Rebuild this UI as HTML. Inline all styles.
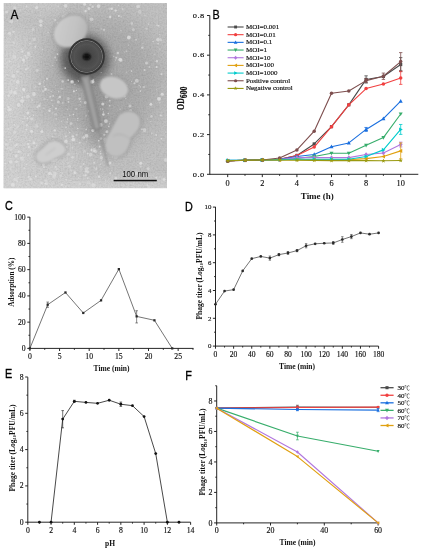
<!DOCTYPE html>
<html lang="en"><head><meta charset="utf-8"><title>Phage characterization figure</title>
<style>html,body{margin:0;padding:0;background:#fff;}svg{display:block;}</style>
</head><body>
<svg width="423" height="550" viewBox="0 0 423 550">
<rect x="0" y="0" width="423" height="550" fill="#ffffff"/>
<defs>
<clipPath id="clipA"><rect x="3.6" y="3.1" width="163.4" height="185.1"/></clipPath>
<filter id="b05" x="-30%" y="-30%" width="160%" height="160%"><feGaussianBlur stdDeviation="0.6"/></filter>
<filter id="b1" x="-30%" y="-30%" width="160%" height="160%"><feGaussianBlur stdDeviation="1"/></filter>
<filter id="b2" x="-30%" y="-30%" width="160%" height="160%"><feGaussianBlur stdDeviation="2.2"/></filter>
<filter id="b4" x="-50%" y="-50%" width="200%" height="200%"><feGaussianBlur stdDeviation="4.2"/></filter>
<filter id="b5" x="-50%" y="-50%" width="200%" height="200%"><feGaussianBlur stdDeviation="6"/></filter>
<filter id="b12" x="-60%" y="-60%" width="220%" height="220%"><feGaussianBlur stdDeviation="14"/></filter>
<filter id="noise" x="0" y="0" width="100%" height="100%"><feTurbulence type="fractalNoise" baseFrequency="0.22" numOctaves="2" seed="11" result="n"/><feColorMatrix type="matrix" values="0 0 0 0 1  0 0 0 0 1  0 0 0 0 1  3.2 3.2 0 0 -3.55"/></filter>
<filter id="grain" x="0" y="0" width="100%" height="100%"><feTurbulence type="fractalNoise" baseFrequency="0.6" numOctaves="2" seed="3" result="n"/><feColorMatrix type="matrix" values="0 0 0 0 0  0 0 0 0 0  0 0 0 0 0  0.9 0.9 0 0 -0.72"/></filter>
<radialGradient id="headG" cx="0.5" cy="0.5" r="0.5"><stop offset="0" stop-color="#202020"/><stop offset="0.15" stop-color="#2c2c2c"/><stop offset="0.35" stop-color="#464646"/><stop offset="0.8" stop-color="#525252"/><stop offset="1" stop-color="#4c4c4c"/></radialGradient>
<linearGradient id="blobG" x1="0" y1="0" x2="1" y2="1"><stop offset="0" stop-color="#d0d0d0"/><stop offset="0.6" stop-color="#c2c2c2"/><stop offset="1" stop-color="#b0b0b0"/></linearGradient>
</defs>
<g id="panelA" clip-path="url(#clipA)">
<rect x="3.6" y="3.1" width="163.4" height="185.1" fill="#c2c2c2"/>
<ellipse cx="104" cy="80" rx="58" ry="66" fill="#acacac" filter="url(#b12)"/>
<ellipse cx="85" cy="59.5" rx="24.5" ry="24.5" fill="#5a5a5a" filter="url(#b4)"/>
<ellipse cx="97" cy="110" rx="10" ry="38" fill="#909090" filter="url(#b5)" opacity="0.7"/>
<rect x="-6" y="30" width="30" height="170" fill="#d8d8d8" filter="url(#b12)"/><ellipse cx="40" cy="160" rx="45" ry="30" fill="#d0d0d0" filter="url(#b12)" opacity="0.8"/>
<rect x="0" y="180" width="170" height="14" fill="#d4d4d4" filter="url(#b5)"/><rect x="0" y="-4" width="60" height="16" fill="#d0d0d0" filter="url(#b5)" opacity="0.7"/>
<rect x="3.6" y="3.1" width="163.4" height="185.1" filter="url(#grain)" opacity="0.12"/>
<g filter="url(#b05)" fill="#e2e2e2"><circle cx="105.3" cy="139.7" r="1.9" opacity="0.36"/><circle cx="80.0" cy="176.6" r="0.5" opacity="0.76"/><circle cx="23.2" cy="89.8" r="0.8" opacity="0.52"/><circle cx="21.4" cy="49.6" r="0.8" opacity="0.53"/><circle cx="34.3" cy="162.7" r="1.2" opacity="0.42"/><circle cx="133.3" cy="29.4" r="1.5" opacity="0.41"/><circle cx="5.3" cy="163.5" r="0.8" opacity="0.70"/><circle cx="159.6" cy="34.4" r="0.7" opacity="0.48"/><circle cx="159.8" cy="102.7" r="0.8" opacity="0.43"/><circle cx="160.9" cy="40.0" r="1.2" opacity="0.48"/><circle cx="63.2" cy="34.4" r="0.7" opacity="0.47"/><circle cx="58.4" cy="153.6" r="0.5" opacity="0.62"/><circle cx="118.9" cy="16.1" r="1.0" opacity="0.72"/><circle cx="82.5" cy="133.0" r="0.5" opacity="0.47"/><circle cx="156.2" cy="177.7" r="1.0" opacity="0.73"/><circle cx="7.9" cy="148.2" r="1.0" opacity="0.52"/><circle cx="140.4" cy="86.9" r="0.7" opacity="0.63"/><circle cx="158.7" cy="25.8" r="0.8" opacity="0.77"/><circle cx="156.7" cy="67.0" r="1.0" opacity="0.75"/><circle cx="45.4" cy="88.7" r="1.0" opacity="0.74"/><circle cx="10.9" cy="177.1" r="0.6" opacity="0.44"/><circle cx="28.9" cy="54.4" r="1.9" opacity="0.39"/><circle cx="115.4" cy="60.0" r="0.6" opacity="0.63"/><circle cx="121.1" cy="60.6" r="1.5" opacity="0.42"/><circle cx="12.8" cy="184.6" r="1.9" opacity="0.77"/><circle cx="10.1" cy="139.5" r="1.0" opacity="0.72"/><circle cx="78.4" cy="81.2" r="0.5" opacity="0.79"/><circle cx="107.8" cy="150.7" r="1.0" opacity="0.73"/><circle cx="26.0" cy="137.9" r="0.7" opacity="0.63"/><circle cx="131.9" cy="23.5" r="1.2" opacity="0.52"/><circle cx="14.5" cy="81.0" r="0.7" opacity="0.55"/><circle cx="165.9" cy="160.0" r="1.9" opacity="0.55"/><circle cx="83.6" cy="137.5" r="1.5" opacity="0.47"/><circle cx="80.7" cy="169.0" r="0.6" opacity="0.52"/><circle cx="164.1" cy="179.6" r="1.5" opacity="0.74"/><circle cx="34.0" cy="94.0" r="1.9" opacity="0.70"/><circle cx="144.6" cy="70.1" r="1.0" opacity="0.66"/><circle cx="111.9" cy="143.0" r="1.0" opacity="0.60"/><circle cx="112.6" cy="156.8" r="0.9" opacity="0.70"/><circle cx="116.2" cy="57.8" r="1.0" opacity="0.64"/><circle cx="98.5" cy="6.1" r="1.9" opacity="0.70"/><circle cx="57.5" cy="54.1" r="0.9" opacity="0.72"/><circle cx="109.2" cy="150.0" r="1.0" opacity="0.47"/><circle cx="60.6" cy="175.6" r="1.2" opacity="0.51"/><circle cx="140.7" cy="163.2" r="1.5" opacity="0.79"/><circle cx="159.0" cy="98.8" r="1.9" opacity="0.79"/><circle cx="37.0" cy="70.3" r="1.5" opacity="0.48"/><circle cx="17.7" cy="126.8" r="1.2" opacity="0.43"/><circle cx="130.6" cy="110.3" r="1.2" opacity="0.49"/><circle cx="94.1" cy="162.7" r="0.9" opacity="0.67"/><circle cx="9.4" cy="33.3" r="1.5" opacity="0.63"/><circle cx="34.1" cy="142.9" r="0.7" opacity="0.63"/><circle cx="11.7" cy="90.3" r="0.8" opacity="0.42"/><circle cx="148.6" cy="24.3" r="0.7" opacity="0.57"/><circle cx="93.3" cy="80.0" r="1.0" opacity="0.52"/><circle cx="103.5" cy="112.0" r="0.8" opacity="0.67"/><circle cx="65.2" cy="68.1" r="0.9" opacity="0.74"/><circle cx="144.5" cy="130.1" r="1.9" opacity="0.52"/><circle cx="10.8" cy="116.3" r="0.6" opacity="0.48"/><circle cx="87.5" cy="178.1" r="0.9" opacity="0.78"/><circle cx="136.8" cy="80.7" r="1.9" opacity="0.52"/><circle cx="27.9" cy="113.1" r="1.5" opacity="0.78"/><circle cx="160.8" cy="115.4" r="1.0" opacity="0.72"/><circle cx="111.5" cy="73.9" r="1.0" opacity="0.60"/><circle cx="104.0" cy="29.7" r="1.2" opacity="0.54"/><circle cx="162.2" cy="94.3" r="1.5" opacity="0.79"/><circle cx="66.1" cy="179.9" r="0.7" opacity="0.62"/><circle cx="46.8" cy="183.5" r="1.5" opacity="0.46"/><circle cx="8.2" cy="177.0" r="0.9" opacity="0.57"/><circle cx="51.1" cy="91.3" r="0.6" opacity="0.65"/><circle cx="159.7" cy="48.9" r="0.5" opacity="0.70"/><circle cx="138.1" cy="6.4" r="1.9" opacity="0.60"/><circle cx="44.2" cy="90.8" r="0.5" opacity="0.46"/><circle cx="48.1" cy="32.3" r="0.9" opacity="0.48"/><circle cx="102.9" cy="90.9" r="0.6" opacity="0.36"/><circle cx="25.3" cy="55.7" r="1.0" opacity="0.63"/><circle cx="122.7" cy="8.9" r="1.0" opacity="0.51"/><circle cx="124.9" cy="112.1" r="0.5" opacity="0.35"/><circle cx="94.1" cy="129.5" r="0.6" opacity="0.75"/><circle cx="92.8" cy="6.7" r="1.2" opacity="0.62"/><circle cx="115.9" cy="178.4" r="1.5" opacity="0.74"/><circle cx="140.4" cy="91.1" r="0.8" opacity="0.75"/><circle cx="79.9" cy="142.8" r="0.9" opacity="0.73"/><circle cx="116.8" cy="83.2" r="0.9" opacity="0.64"/><circle cx="31.6" cy="131.2" r="1.5" opacity="0.79"/><circle cx="91.6" cy="81.9" r="1.9" opacity="0.72"/><circle cx="16.0" cy="46.1" r="0.6" opacity="0.71"/><circle cx="111.8" cy="8.7" r="1.2" opacity="0.79"/><circle cx="165.7" cy="132.3" r="0.5" opacity="0.41"/><circle cx="24.7" cy="116.5" r="0.6" opacity="0.67"/><circle cx="26.7" cy="57.5" r="1.5" opacity="0.42"/><circle cx="103.3" cy="79.8" r="0.7" opacity="0.38"/><circle cx="39.3" cy="105.7" r="1.2" opacity="0.69"/><circle cx="50.1" cy="108.5" r="0.6" opacity="0.68"/><circle cx="146.4" cy="28.6" r="1.2" opacity="0.39"/><circle cx="115.4" cy="93.6" r="1.0" opacity="0.77"/><circle cx="65.2" cy="14.2" r="0.9" opacity="0.42"/><circle cx="106.6" cy="96.6" r="1.9" opacity="0.60"/><circle cx="40.5" cy="15.6" r="0.8" opacity="0.46"/><circle cx="125.8" cy="98.6" r="0.7" opacity="0.71"/><circle cx="144.0" cy="87.0" r="1.2" opacity="0.43"/><circle cx="119.8" cy="123.9" r="0.6" opacity="0.61"/><circle cx="10.8" cy="162.0" r="1.9" opacity="0.62"/><circle cx="43.4" cy="164.5" r="1.5" opacity="0.78"/><circle cx="22.3" cy="101.1" r="1.9" opacity="0.68"/><circle cx="13.6" cy="31.6" r="1.2" opacity="0.66"/><circle cx="40.9" cy="25.2" r="1.5" opacity="0.72"/><circle cx="27.5" cy="118.3" r="1.0" opacity="0.73"/><circle cx="51.7" cy="174.3" r="1.0" opacity="0.71"/><circle cx="65.9" cy="136.3" r="1.0" opacity="0.64"/><circle cx="134.5" cy="83.3" r="1.0" opacity="0.58"/><circle cx="100.4" cy="108.9" r="0.7" opacity="0.53"/><circle cx="20.6" cy="10.1" r="0.8" opacity="0.44"/><circle cx="83.9" cy="175.5" r="1.0" opacity="0.35"/><circle cx="80.7" cy="166.8" r="1.2" opacity="0.50"/><circle cx="110.2" cy="17.0" r="1.2" opacity="0.74"/><circle cx="80.6" cy="105.0" r="0.6" opacity="0.47"/><circle cx="31.0" cy="56.5" r="0.8" opacity="0.36"/><circle cx="149.3" cy="67.0" r="1.0" opacity="0.49"/><circle cx="14.5" cy="8.0" r="1.5" opacity="0.56"/><circle cx="157.2" cy="25.6" r="1.0" opacity="0.48"/><circle cx="113.6" cy="137.5" r="0.7" opacity="0.37"/><circle cx="120.1" cy="109.2" r="0.6" opacity="0.63"/><circle cx="151.8" cy="133.3" r="0.9" opacity="0.43"/><circle cx="63.2" cy="16.2" r="1.5" opacity="0.42"/><circle cx="43.7" cy="127.0" r="0.5" opacity="0.64"/><circle cx="74.3" cy="182.5" r="0.5" opacity="0.56"/><circle cx="77.9" cy="128.7" r="0.7" opacity="0.37"/><circle cx="93.3" cy="185.1" r="1.9" opacity="0.60"/><circle cx="156.3" cy="135.1" r="0.8" opacity="0.75"/><circle cx="84.1" cy="175.2" r="0.5" opacity="0.66"/><circle cx="108.7" cy="95.0" r="0.5" opacity="0.37"/><circle cx="139.2" cy="85.6" r="0.5" opacity="0.74"/><circle cx="158.0" cy="39.6" r="1.9" opacity="0.64"/><circle cx="35.3" cy="46.8" r="1.0" opacity="0.71"/><circle cx="19.0" cy="184.3" r="0.7" opacity="0.62"/><circle cx="142.9" cy="43.2" r="0.5" opacity="0.55"/><circle cx="62.6" cy="81.4" r="1.2" opacity="0.59"/><circle cx="26.4" cy="6.3" r="0.9" opacity="0.66"/><circle cx="148.5" cy="186.9" r="1.9" opacity="0.40"/><circle cx="55.2" cy="20.0" r="0.9" opacity="0.72"/><circle cx="55.4" cy="27.8" r="0.6" opacity="0.56"/><circle cx="117.2" cy="150.2" r="0.8" opacity="0.47"/><circle cx="118.3" cy="149.7" r="1.0" opacity="0.75"/><circle cx="16.6" cy="144.8" r="1.2" opacity="0.69"/><circle cx="94.5" cy="168.0" r="0.7" opacity="0.61"/><circle cx="76.2" cy="153.5" r="0.5" opacity="0.68"/><circle cx="117.9" cy="53.0" r="1.2" opacity="0.60"/><circle cx="56.7" cy="60.1" r="0.7" opacity="0.47"/><circle cx="113.8" cy="56.3" r="0.6" opacity="0.59"/><circle cx="124.0" cy="9.1" r="0.6" opacity="0.37"/><circle cx="25.9" cy="69.4" r="0.9" opacity="0.78"/><circle cx="58.2" cy="6.3" r="0.7" opacity="0.68"/><circle cx="20.3" cy="101.0" r="0.7" opacity="0.63"/><circle cx="28.2" cy="143.9" r="1.2" opacity="0.71"/><circle cx="24.0" cy="62.0" r="0.8" opacity="0.56"/><circle cx="74.9" cy="84.8" r="0.7" opacity="0.59"/><circle cx="161.1" cy="113.1" r="0.6" opacity="0.41"/><circle cx="141.9" cy="129.4" r="0.8" opacity="0.79"/><circle cx="10.3" cy="109.6" r="1.5" opacity="0.67"/><circle cx="62.0" cy="88.9" r="0.8" opacity="0.47"/><circle cx="37.4" cy="106.9" r="1.0" opacity="0.69"/><circle cx="131.4" cy="71.1" r="0.8" opacity="0.72"/><circle cx="111.8" cy="170.2" r="0.5" opacity="0.63"/><circle cx="69.5" cy="30.2" r="0.8" opacity="0.57"/><circle cx="11.1" cy="35.0" r="0.6" opacity="0.69"/><circle cx="50.3" cy="172.5" r="1.0" opacity="0.56"/><circle cx="80.7" cy="101.7" r="0.6" opacity="0.71"/><circle cx="65.6" cy="5.8" r="1.9" opacity="0.62"/><circle cx="105.0" cy="152.8" r="0.5" opacity="0.49"/><circle cx="9.4" cy="61.1" r="1.2" opacity="0.58"/><circle cx="92.9" cy="130.4" r="1.5" opacity="0.79"/><circle cx="136.3" cy="173.1" r="1.9" opacity="0.65"/><circle cx="91.4" cy="150.2" r="1.0" opacity="0.78"/><circle cx="8.2" cy="144.9" r="0.8" opacity="0.48"/><circle cx="17.5" cy="20.0" r="1.0" opacity="0.62"/><circle cx="143.9" cy="176.2" r="1.2" opacity="0.49"/><circle cx="154.6" cy="54.3" r="0.8" opacity="0.38"/><circle cx="126.3" cy="126.6" r="0.9" opacity="0.75"/><circle cx="115.7" cy="157.4" r="1.9" opacity="0.44"/><circle cx="88.2" cy="168.0" r="0.8" opacity="0.50"/><circle cx="131.5" cy="81.5" r="0.5" opacity="0.65"/><circle cx="65.9" cy="141.4" r="1.9" opacity="0.75"/><circle cx="151.5" cy="116.3" r="1.2" opacity="0.50"/><circle cx="140.7" cy="166.7" r="1.0" opacity="0.46"/><circle cx="21.1" cy="57.8" r="0.9" opacity="0.71"/><circle cx="17.5" cy="177.9" r="0.6" opacity="0.63"/><circle cx="128.4" cy="45.1" r="0.6" opacity="0.61"/><circle cx="105.9" cy="121.1" r="1.9" opacity="0.68"/><circle cx="72.1" cy="81.8" r="1.9" opacity="0.62"/><circle cx="44.3" cy="80.5" r="0.6" opacity="0.62"/><circle cx="160.6" cy="38.3" r="0.5" opacity="0.42"/><circle cx="52.6" cy="105.6" r="0.7" opacity="0.55"/><circle cx="57.5" cy="22.7" r="1.0" opacity="0.68"/><circle cx="14.9" cy="92.7" r="1.9" opacity="0.78"/><circle cx="56.3" cy="159.6" r="1.2" opacity="0.77"/><circle cx="41.9" cy="131.5" r="1.5" opacity="0.73"/><circle cx="5.3" cy="127.0" r="0.6" opacity="0.39"/><circle cx="29.5" cy="116.7" r="0.6" opacity="0.61"/><circle cx="128.9" cy="37.5" r="1.9" opacity="0.78"/><circle cx="105.6" cy="180.6" r="0.6" opacity="0.51"/><circle cx="136.1" cy="39.8" r="1.0" opacity="0.52"/><circle cx="78.8" cy="128.5" r="0.6" opacity="0.46"/><circle cx="156.6" cy="89.3" r="0.5" opacity="0.40"/><circle cx="101.1" cy="72.5" r="0.5" opacity="0.57"/><circle cx="160.0" cy="176.9" r="0.6" opacity="0.57"/><circle cx="156.0" cy="134.4" r="0.5" opacity="0.40"/><circle cx="123.7" cy="172.1" r="1.2" opacity="0.41"/><circle cx="150.8" cy="121.6" r="0.6" opacity="0.61"/><circle cx="52.7" cy="65.7" r="0.6" opacity="0.58"/><circle cx="13.1" cy="81.0" r="0.8" opacity="0.47"/><circle cx="120.9" cy="30.7" r="0.6" opacity="0.60"/><circle cx="74.6" cy="36.9" r="1.2" opacity="0.73"/><circle cx="44.4" cy="86.8" r="0.7" opacity="0.71"/><circle cx="5.8" cy="144.2" r="1.0" opacity="0.71"/><circle cx="8.4" cy="106.9" r="1.2" opacity="0.74"/><circle cx="17.6" cy="181.8" r="0.8" opacity="0.79"/><circle cx="76.3" cy="90.4" r="0.6" opacity="0.78"/><circle cx="101.3" cy="157.6" r="1.5" opacity="0.58"/><circle cx="13.5" cy="75.9" r="1.9" opacity="0.55"/><circle cx="100.6" cy="169.1" r="0.5" opacity="0.45"/><circle cx="72.9" cy="136.4" r="1.2" opacity="0.76"/><circle cx="65.9" cy="186.8" r="0.7" opacity="0.75"/><circle cx="28.9" cy="146.9" r="1.2" opacity="0.73"/><circle cx="17.4" cy="71.6" r="1.2" opacity="0.54"/><circle cx="48.6" cy="90.0" r="0.9" opacity="0.35"/><circle cx="107.0" cy="144.8" r="1.5" opacity="0.38"/><circle cx="115.7" cy="10.6" r="1.2" opacity="0.75"/><circle cx="36.6" cy="7.4" r="1.5" opacity="0.78"/><circle cx="101.4" cy="28.9" r="0.8" opacity="0.38"/><circle cx="63.7" cy="117.3" r="0.5" opacity="0.43"/><circle cx="126.4" cy="72.2" r="0.8" opacity="0.42"/><circle cx="88.4" cy="182.4" r="1.9" opacity="0.39"/><circle cx="22.9" cy="121.8" r="1.0" opacity="0.49"/><circle cx="150.9" cy="104.2" r="1.5" opacity="0.78"/><circle cx="43.8" cy="108.1" r="0.9" opacity="0.36"/><circle cx="7.0" cy="74.5" r="0.8" opacity="0.57"/><circle cx="118.6" cy="5.5" r="0.8" opacity="0.54"/><circle cx="86.2" cy="115.7" r="0.9" opacity="0.38"/><circle cx="85.6" cy="11.0" r="1.2" opacity="0.75"/><circle cx="130.0" cy="106.1" r="1.5" opacity="0.55"/><circle cx="110.4" cy="173.2" r="1.0" opacity="0.61"/><circle cx="49.4" cy="110.7" r="1.2" opacity="0.79"/><circle cx="53.6" cy="34.5" r="0.6" opacity="0.64"/><circle cx="13.9" cy="42.8" r="1.2" opacity="0.39"/><circle cx="87.7" cy="153.6" r="1.0" opacity="0.72"/><circle cx="27.2" cy="68.2" r="1.5" opacity="0.35"/><circle cx="95.9" cy="107.7" r="0.5" opacity="0.38"/><circle cx="19.2" cy="66.6" r="0.7" opacity="0.52"/><circle cx="59.9" cy="153.2" r="1.5" opacity="0.70"/><circle cx="124.3" cy="52.0" r="0.5" opacity="0.63"/><circle cx="67.6" cy="119.1" r="0.8" opacity="0.67"/><circle cx="100.3" cy="164.2" r="0.7" opacity="0.62"/><circle cx="96.1" cy="169.0" r="1.0" opacity="0.60"/><circle cx="6.6" cy="11.9" r="1.5" opacity="0.65"/><circle cx="109.6" cy="8.8" r="1.2" opacity="0.40"/><circle cx="121.1" cy="115.9" r="0.8" opacity="0.59"/><circle cx="117.1" cy="133.2" r="0.6" opacity="0.37"/><circle cx="120.2" cy="59.6" r="1.9" opacity="0.75"/><circle cx="121.1" cy="16.7" r="0.9" opacity="0.40"/><circle cx="126.5" cy="51.3" r="0.9" opacity="0.48"/><circle cx="146.5" cy="63.1" r="1.5" opacity="0.56"/><circle cx="30.0" cy="43.6" r="0.9" opacity="0.49"/><circle cx="103.5" cy="87.7" r="0.7" opacity="0.51"/><circle cx="17.7" cy="81.8" r="1.9" opacity="0.64"/><circle cx="33.1" cy="29.4" r="1.5" opacity="0.43"/><circle cx="85.8" cy="175.2" r="1.0" opacity="0.76"/><circle cx="28.4" cy="53.0" r="1.5" opacity="0.58"/><circle cx="158.1" cy="43.7" r="0.8" opacity="0.65"/><circle cx="72.6" cy="147.5" r="1.0" opacity="0.48"/><circle cx="22.4" cy="51.4" r="1.0" opacity="0.73"/><circle cx="88.1" cy="93.1" r="0.6" opacity="0.78"/><circle cx="23.8" cy="144.9" r="1.0" opacity="0.39"/><circle cx="145.2" cy="56.1" r="0.7" opacity="0.37"/><circle cx="161.5" cy="74.3" r="1.0" opacity="0.68"/><circle cx="47.0" cy="78.7" r="1.0" opacity="0.75"/><circle cx="55.2" cy="57.6" r="1.0" opacity="0.53"/><circle cx="145.0" cy="15.5" r="0.9" opacity="0.38"/><circle cx="11.3" cy="21.3" r="1.9" opacity="0.53"/><circle cx="79.3" cy="17.1" r="1.2" opacity="0.36"/><circle cx="22.4" cy="97.6" r="1.0" opacity="0.78"/><circle cx="80.0" cy="22.8" r="0.8" opacity="0.40"/><circle cx="91.5" cy="19.3" r="1.9" opacity="0.52"/><circle cx="23.5" cy="60.1" r="1.5" opacity="0.79"/><circle cx="87.9" cy="172.0" r="1.2" opacity="0.65"/><circle cx="34.1" cy="39.1" r="1.9" opacity="0.38"/><circle cx="54.3" cy="160.6" r="1.5" opacity="0.49"/><circle cx="94.0" cy="150.0" r="1.9" opacity="0.47"/><circle cx="31.7" cy="119.0" r="1.5" opacity="0.56"/><circle cx="127.1" cy="114.7" r="0.7" opacity="0.62"/><circle cx="78.6" cy="177.9" r="0.6" opacity="0.55"/><circle cx="42.7" cy="49.7" r="0.6" opacity="0.67"/><circle cx="46.4" cy="88.9" r="0.7" opacity="0.71"/><circle cx="147.5" cy="118.9" r="0.5" opacity="0.59"/><circle cx="8.8" cy="109.7" r="1.5" opacity="0.64"/><circle cx="83.7" cy="163.9" r="0.9" opacity="0.62"/><circle cx="14.3" cy="56.8" r="1.9" opacity="0.54"/><circle cx="71.8" cy="182.7" r="0.7" opacity="0.48"/><circle cx="36.3" cy="178.1" r="0.5" opacity="0.35"/><circle cx="156.9" cy="61.2" r="1.2" opacity="0.65"/><circle cx="72.8" cy="157.3" r="1.5" opacity="0.50"/><circle cx="122.8" cy="96.4" r="0.5" opacity="0.42"/><circle cx="84.6" cy="4.2" r="1.5" opacity="0.70"/><circle cx="139.8" cy="11.9" r="1.9" opacity="0.35"/><circle cx="161.4" cy="138.8" r="0.7" opacity="0.79"/><circle cx="142.3" cy="47.6" r="1.2" opacity="0.64"/><circle cx="67.0" cy="122.0" r="0.8" opacity="0.64"/><circle cx="153.1" cy="41.5" r="0.8" opacity="0.61"/><circle cx="124.7" cy="96.2" r="1.2" opacity="0.61"/><circle cx="40.9" cy="21.2" r="1.9" opacity="0.62"/><circle cx="127.0" cy="85.3" r="0.5" opacity="0.75"/><circle cx="90.4" cy="4.5" r="1.2" opacity="0.38"/><circle cx="7.3" cy="144.2" r="0.6" opacity="0.43"/><circle cx="148.2" cy="168.5" r="1.5" opacity="0.56"/><circle cx="89.0" cy="8.5" r="1.5" opacity="0.73"/><circle cx="103.9" cy="135.0" r="0.8" opacity="0.36"/><circle cx="147.4" cy="185.1" r="0.8" opacity="0.79"/><circle cx="62.5" cy="173.2" r="0.7" opacity="0.45"/><circle cx="38.6" cy="156.5" r="1.2" opacity="0.53"/><circle cx="47.2" cy="99.7" r="0.7" opacity="0.53"/><circle cx="10.7" cy="127.8" r="0.8" opacity="0.66"/><circle cx="85.8" cy="171.4" r="1.2" opacity="0.71"/><circle cx="75.1" cy="172.7" r="1.5" opacity="0.68"/><circle cx="81.0" cy="171.0" r="0.5" opacity="0.44"/><circle cx="45.3" cy="89.9" r="1.2" opacity="0.51"/><circle cx="8.7" cy="95.6" r="1.2" opacity="0.78"/><circle cx="55.6" cy="167.0" r="1.0" opacity="0.68"/><circle cx="45.5" cy="183.8" r="1.0" opacity="0.69"/><circle cx="54.0" cy="176.5" r="1.9" opacity="0.54"/><circle cx="107.8" cy="81.7" r="1.5" opacity="0.48"/><circle cx="62.8" cy="103.1" r="1.0" opacity="0.39"/><circle cx="40.7" cy="169.9" r="0.5" opacity="0.49"/><circle cx="60.9" cy="88.7" r="0.6" opacity="0.37"/><circle cx="53.2" cy="95.9" r="0.9" opacity="0.63"/><circle cx="60.7" cy="172.5" r="0.6" opacity="0.62"/><circle cx="50.2" cy="96.8" r="1.2" opacity="0.39"/><circle cx="77.5" cy="128.5" r="0.6" opacity="0.72"/><circle cx="106.5" cy="153.5" r="0.5" opacity="0.62"/><circle cx="54.9" cy="173.4" r="1.9" opacity="0.51"/><circle cx="66.1" cy="127.4" r="0.8" opacity="0.63"/><circle cx="21.4" cy="126.1" r="0.5" opacity="0.49"/><circle cx="68.2" cy="98.4" r="1.5" opacity="0.41"/><circle cx="68.2" cy="153.5" r="0.5" opacity="0.38"/><circle cx="37.0" cy="148.9" r="0.5" opacity="0.55"/><circle cx="61.9" cy="184.7" r="1.2" opacity="0.73"/><circle cx="26.1" cy="129.8" r="1.0" opacity="0.73"/><circle cx="35.9" cy="176.6" r="1.0" opacity="0.77"/><circle cx="95.4" cy="184.7" r="0.7" opacity="0.42"/><circle cx="44.4" cy="99.0" r="1.2" opacity="0.35"/><circle cx="27.9" cy="96.3" r="1.9" opacity="0.55"/><circle cx="91.5" cy="149.2" r="0.8" opacity="0.66"/><circle cx="10.7" cy="91.9" r="1.9" opacity="0.49"/><circle cx="24.6" cy="178.1" r="0.5" opacity="0.44"/><circle cx="28.9" cy="176.7" r="1.0" opacity="0.70"/><circle cx="11.3" cy="92.8" r="0.8" opacity="0.40"/><circle cx="99.7" cy="146.6" r="1.0" opacity="0.70"/><circle cx="35.5" cy="86.9" r="0.7" opacity="0.46"/><circle cx="86.2" cy="129.3" r="0.8" opacity="0.73"/><circle cx="101.0" cy="138.5" r="1.2" opacity="0.65"/><circle cx="78.1" cy="80.4" r="0.7" opacity="0.40"/><circle cx="45.6" cy="180.5" r="1.5" opacity="0.35"/><circle cx="104.5" cy="134.8" r="1.0" opacity="0.49"/><circle cx="88.6" cy="111.0" r="0.7" opacity="0.66"/><circle cx="100.8" cy="139.2" r="0.6" opacity="0.45"/><circle cx="67.6" cy="109.6" r="0.7" opacity="0.44"/><circle cx="68.4" cy="154.0" r="1.5" opacity="0.45"/><circle cx="33.9" cy="142.7" r="1.5" opacity="0.71"/><circle cx="73.3" cy="139.6" r="1.9" opacity="0.80"/><circle cx="24.9" cy="96.8" r="0.9" opacity="0.52"/><circle cx="69.8" cy="115.4" r="0.8" opacity="0.55"/><circle cx="18.4" cy="177.5" r="0.5" opacity="0.76"/><circle cx="28.2" cy="155.2" r="0.9" opacity="0.53"/><circle cx="43.9" cy="153.0" r="0.8" opacity="0.36"/><circle cx="99.3" cy="126.4" r="0.9" opacity="0.38"/><circle cx="49.4" cy="173.6" r="1.5" opacity="0.77"/><circle cx="48.6" cy="142.8" r="0.8" opacity="0.58"/><circle cx="77.8" cy="118.6" r="0.7" opacity="0.77"/><circle cx="79.8" cy="104.2" r="0.5" opacity="0.48"/><circle cx="56.9" cy="169.3" r="0.7" opacity="0.69"/><circle cx="53.2" cy="139.5" r="0.8" opacity="0.50"/><circle cx="16.6" cy="161.6" r="1.5" opacity="0.59"/><circle cx="23.0" cy="131.1" r="0.7" opacity="0.78"/><circle cx="14.6" cy="124.8" r="0.7" opacity="0.78"/><circle cx="86.5" cy="135.8" r="1.9" opacity="0.64"/><circle cx="107.0" cy="131.8" r="1.5" opacity="0.73"/><circle cx="86.5" cy="141.7" r="0.5" opacity="0.57"/><circle cx="102.7" cy="109.1" r="0.9" opacity="0.45"/><circle cx="14.8" cy="132.1" r="1.5" opacity="0.46"/><circle cx="52.5" cy="113.0" r="0.7" opacity="0.46"/><circle cx="101.3" cy="160.3" r="0.9" opacity="0.40"/><circle cx="62.2" cy="146.2" r="0.5" opacity="0.41"/><circle cx="52.8" cy="160.4" r="1.9" opacity="0.77"/><circle cx="26.8" cy="125.3" r="1.2" opacity="0.52"/><circle cx="61.6" cy="121.1" r="0.6" opacity="0.71"/><circle cx="55.5" cy="175.5" r="0.7" opacity="0.51"/><circle cx="36.4" cy="125.9" r="1.9" opacity="0.35"/><circle cx="109.1" cy="90.4" r="1.9" opacity="0.70"/><circle cx="18.6" cy="105.0" r="1.9" opacity="0.63"/><circle cx="76.6" cy="134.7" r="1.0" opacity="0.44"/><circle cx="71.0" cy="123.4" r="1.5" opacity="0.50"/><circle cx="58.3" cy="102.0" r="1.5" opacity="0.57"/><circle cx="98.8" cy="140.7" r="0.9" opacity="0.79"/><circle cx="55.7" cy="85.6" r="0.7" opacity="0.37"/><circle cx="68.5" cy="101.9" r="0.8" opacity="0.66"/><circle cx="30.7" cy="179.3" r="1.5" opacity="0.61"/><circle cx="24.6" cy="118.1" r="0.6" opacity="0.75"/><circle cx="40.9" cy="177.1" r="0.8" opacity="0.38"/><circle cx="100.7" cy="151.5" r="0.5" opacity="0.68"/><circle cx="94.7" cy="120.0" r="1.2" opacity="0.52"/><circle cx="104.6" cy="142.7" r="0.5" opacity="0.50"/><circle cx="100.8" cy="124.9" r="1.9" opacity="0.63"/><circle cx="51.7" cy="100.4" r="0.8" opacity="0.53"/><circle cx="40.1" cy="103.9" r="0.7" opacity="0.54"/><circle cx="58.2" cy="97.9" r="0.5" opacity="0.69"/><circle cx="58.7" cy="181.4" r="0.6" opacity="0.49"/><circle cx="57.8" cy="151.5" r="1.5" opacity="0.44"/><circle cx="35.7" cy="147.6" r="0.5" opacity="0.71"/><circle cx="50.5" cy="96.5" r="0.5" opacity="0.67"/><circle cx="86.6" cy="169.0" r="1.9" opacity="0.51"/><circle cx="100.6" cy="153.6" r="0.8" opacity="0.65"/><circle cx="108.3" cy="113.5" r="0.8" opacity="0.62"/><circle cx="92.9" cy="110.2" r="1.2" opacity="0.68"/><circle cx="41.7" cy="182.7" r="1.2" opacity="0.56"/><circle cx="34.7" cy="88.0" r="0.6" opacity="0.39"/><circle cx="73.9" cy="91.2" r="1.0" opacity="0.79"/><circle cx="56.1" cy="119.0" r="0.9" opacity="0.41"/><circle cx="84.4" cy="137.5" r="0.6" opacity="0.57"/><circle cx="36.7" cy="145.7" r="0.8" opacity="0.69"/><circle cx="85.5" cy="102.6" r="1.5" opacity="0.66"/><circle cx="68.2" cy="163.0" r="0.8" opacity="0.61"/><circle cx="58.7" cy="91.5" r="0.7" opacity="0.60"/><circle cx="69.6" cy="132.5" r="0.7" opacity="0.63"/><circle cx="77.6" cy="120.6" r="0.5" opacity="0.54"/><circle cx="54.7" cy="130.4" r="1.2" opacity="0.72"/><circle cx="84.6" cy="151.3" r="1.2" opacity="0.40"/><circle cx="83.4" cy="152.5" r="0.5" opacity="0.44"/><circle cx="103.4" cy="114.5" r="1.2" opacity="0.80"/><circle cx="20.7" cy="151.8" r="0.6" opacity="0.65"/><circle cx="99.0" cy="176.7" r="1.2" opacity="0.69"/><circle cx="45.6" cy="183.2" r="0.8" opacity="0.39"/><circle cx="39.7" cy="83.7" r="1.2" opacity="0.76"/><circle cx="70.2" cy="180.4" r="0.7" opacity="0.36"/><circle cx="93.9" cy="151.0" r="0.9" opacity="0.57"/><circle cx="16.0" cy="171.4" r="0.7" opacity="0.61"/><circle cx="66.8" cy="147.0" r="1.0" opacity="0.72"/><circle cx="96.3" cy="167.6" r="0.5" opacity="0.59"/><circle cx="10.6" cy="104.9" r="1.0" opacity="0.40"/><circle cx="56.0" cy="108.4" r="1.0" opacity="0.79"/><circle cx="32.1" cy="100.3" r="0.7" opacity="0.75"/><circle cx="71.8" cy="81.7" r="0.9" opacity="0.77"/><circle cx="10.0" cy="158.5" r="0.7" opacity="0.41"/><circle cx="43.0" cy="91.2" r="1.0" opacity="0.47"/><circle cx="63.2" cy="149.3" r="1.0" opacity="0.43"/><circle cx="33.5" cy="115.2" r="0.7" opacity="0.79"/><circle cx="109.6" cy="164.0" r="0.6" opacity="0.76"/><circle cx="20.8" cy="157.5" r="1.0" opacity="0.47"/><circle cx="102.8" cy="103.9" r="1.5" opacity="0.70"/><circle cx="24.5" cy="168.2" r="1.0" opacity="0.64"/><circle cx="104.4" cy="84.8" r="1.0" opacity="0.54"/><circle cx="8.5" cy="129.1" r="1.0" opacity="0.66"/><circle cx="109.9" cy="163.0" r="1.5" opacity="0.67"/><circle cx="16.1" cy="155.7" r="1.5" opacity="0.72"/><circle cx="33.9" cy="167.3" r="0.6" opacity="0.51"/><circle cx="109.8" cy="100.6" r="0.9" opacity="0.70"/><circle cx="16.0" cy="88.3" r="1.0" opacity="0.63"/><circle cx="74.3" cy="172.2" r="0.9" opacity="0.63"/><circle cx="108.8" cy="126.5" r="0.8" opacity="0.71"/><circle cx="29.5" cy="140.7" r="0.8" opacity="0.58"/><circle cx="43.9" cy="166.9" r="1.2" opacity="0.62"/><circle cx="59.8" cy="96.9" r="1.2" opacity="0.72"/><circle cx="71.1" cy="170.6" r="1.2" opacity="0.40"/><circle cx="10.9" cy="148.6" r="1.9" opacity="0.44"/><circle cx="73.4" cy="114.5" r="0.8" opacity="0.77"/><circle cx="24.1" cy="90.5" r="1.0" opacity="0.75"/><circle cx="65.3" cy="150.1" r="0.8" opacity="0.63"/><circle cx="79.6" cy="98.7" r="1.2" opacity="0.57"/><circle cx="26.0" cy="180.5" r="0.5" opacity="0.74"/><circle cx="68.2" cy="80.1" r="0.9" opacity="0.79"/><circle cx="48.4" cy="184.8" r="0.5" opacity="0.41"/><circle cx="23.6" cy="89.2" r="1.5" opacity="0.77"/><circle cx="79.5" cy="183.8" r="1.5" opacity="0.44"/><circle cx="54.9" cy="141.5" r="0.9" opacity="0.67"/><circle cx="18.7" cy="151.7" r="1.2" opacity="0.74"/><circle cx="95.6" cy="151.5" r="1.5" opacity="0.54"/><circle cx="55.5" cy="114.2" r="1.5" opacity="0.35"/><circle cx="10.9" cy="168.8" r="0.9" opacity="0.51"/><circle cx="15.2" cy="145.6" r="1.2" opacity="0.45"/><circle cx="69.4" cy="166.2" r="1.5" opacity="0.46"/><circle cx="26.6" cy="164.3" r="0.8" opacity="0.76"/><circle cx="15.6" cy="179.4" r="1.9" opacity="0.54"/><circle cx="35.1" cy="156.6" r="1.0" opacity="0.47"/><circle cx="45.6" cy="150.5" r="1.2" opacity="0.41"/><circle cx="97.2" cy="172.3" r="0.5" opacity="0.50"/><circle cx="109.6" cy="123.7" r="0.8" opacity="0.50"/><circle cx="65.9" cy="179.4" r="0.7" opacity="0.59"/><circle cx="90.7" cy="154.7" r="1.9" opacity="0.49"/><circle cx="76.3" cy="108.9" r="1.0" opacity="0.42"/><circle cx="93.0" cy="81.8" r="1.5" opacity="0.69"/><circle cx="45.6" cy="180.7" r="0.5" opacity="0.43"/><circle cx="16.3" cy="82.5" r="0.6" opacity="0.39"/><circle cx="52.4" cy="136.4" r="0.9" opacity="0.58"/><circle cx="12.2" cy="180.0" r="0.6" opacity="0.42"/><circle cx="43.4" cy="82.0" r="0.8" opacity="0.42"/><circle cx="22.1" cy="158.5" r="1.9" opacity="0.49"/><circle cx="38.0" cy="126.7" r="0.7" opacity="0.41"/><circle cx="109.7" cy="105.7" r="0.8" opacity="0.68"/></g>
<g filter="url(#b2)" opacity="0.55">
<ellipse cx="70.6" cy="31.3" rx="18.2" ry="14.6" transform="rotate(-38 70.6 31.3)" fill="#8e8e8e" stroke="#8e8e8e" stroke-width="3"/>
<ellipse cx="114" cy="87.6" rx="14.5" ry="10.5" transform="rotate(20 114 87.6)" fill="#8e8e8e" stroke="#8e8e8e" stroke-width="3"/>
<path d="M117.5 118 C121 109.5 136 109 139.5 118 C142 127 136 133 130.5 138 C130 147 124 158 114 156.5 C104 154 104 142 108 135.5 C111 131 114 124 117.5 118 Z" fill="#8e8e8e" stroke="#8e8e8e" stroke-width="3"/>
<path d="M44 147 C48 140 58 139 62 144 C68 148 66 154 60 156 C54 158 50 163 43 163 C36 163 34 156 38 152 C40 150 42 149 44 147 Z" fill="#8e8e8e" stroke="#8e8e8e" stroke-width="3"/>
</g>
<g filter="url(#b1)">
<ellipse cx="70.6" cy="31.3" rx="18.2" ry="14.6" transform="rotate(-38 70.6 31.3)" fill="url(#blobG)"/>
<ellipse cx="114" cy="87.6" rx="14.5" ry="10.5" transform="rotate(20 114 87.6)" fill="#c6c6c6"/>
<path d="M117.5 118 C121 109.5 136 109 139.5 118 C142 127 136 133 130.5 138 C130 147 124 158 114 156.5 C104 154 104 142 108 135.5 C111 131 114 124 117.5 118 Z" fill="#c0c0c0"/>
<path d="M44 147 C48 140 58 139 62 144 C68 148 66 154 60 156 C54 158 50 163 43 163 C36 163 34 156 38 152 C40 150 42 149 44 147 Z" fill="#cecece"/>
<path d="M113 136 C118 133 124 134 130 139" stroke="#aaaaaa" stroke-width="0.8" fill="none"/>
<path d="M46 155 C49 152 52 151 55 148" stroke="#b4b4b4" stroke-width="0.8" fill="none"/>
</g>
<g filter="url(#b1)">
<path d="M80.8 77 L89.2 75.5 L100.8 128.5 L94 130.5 Z" fill="#959595" stroke="#787878" stroke-width="1"/>
<line x1="85.5" y1="79" x2="97.2" y2="128" stroke="#a8a8a8" stroke-width="1.8"/>
<path d="M98.5 130 L108 166" stroke="#909090" stroke-width="1.4" fill="none"/>
</g>
<g filter="url(#b05)">
<circle cx="86.6" cy="56.5" r="18.2" fill="#343434"/>
<circle cx="86.6" cy="56.5" r="15.9" fill="none" stroke="#828282" stroke-width="0.9"/>
<circle cx="86.6" cy="56.5" r="15.3" fill="url(#headG)"/>
</g>
<ellipse cx="86.8" cy="56.8" rx="3.6" ry="2.6" fill="#080808" filter="url(#b1)"/>
</g>
<rect x="113.6" y="179.8" width="43.2" height="1.5" fill="#111"/>
<text transform="translate(135.20,177.20) scale(0.91,1)" font-size="8.6" text-anchor="middle" font-family='"Liberation Sans", sans-serif' fill="#111" >100 nm</text>
<text transform="translate(10.80,19.30) scale(0.95,1)" font-size="12" text-anchor="start" font-family='"Liberation Sans", sans-serif' fill="#000" stroke="#000" stroke-width="0.3">A</text>
<g id="panelB">
<line x1="209.80" y1="174.30" x2="418.30" y2="174.30" stroke="#1a1a1a" stroke-width="0.95" />
<line x1="209.80" y1="174.78" x2="209.80" y2="15.50" stroke="#1a1a1a" stroke-width="0.95" />
<line x1="227.70" y1="174.30" x2="227.70" y2="177.10" stroke="#1a1a1a" stroke-width="0.95" />
<text x="227.70" y="185.60" font-size="8.3" text-anchor="middle" font-family='"Liberation Serif", serif' fill="#111"  stroke="#111" stroke-width="0.15">0</text>
<line x1="262.30" y1="174.30" x2="262.30" y2="177.10" stroke="#1a1a1a" stroke-width="0.95" />
<text x="262.30" y="185.60" font-size="8.3" text-anchor="middle" font-family='"Liberation Serif", serif' fill="#111"  stroke="#111" stroke-width="0.15">2</text>
<line x1="296.90" y1="174.30" x2="296.90" y2="177.10" stroke="#1a1a1a" stroke-width="0.95" />
<text x="296.90" y="185.60" font-size="8.3" text-anchor="middle" font-family='"Liberation Serif", serif' fill="#111"  stroke="#111" stroke-width="0.15">4</text>
<line x1="331.50" y1="174.30" x2="331.50" y2="177.10" stroke="#1a1a1a" stroke-width="0.95" />
<text x="331.50" y="185.60" font-size="8.3" text-anchor="middle" font-family='"Liberation Serif", serif' fill="#111"  stroke="#111" stroke-width="0.15">6</text>
<line x1="366.10" y1="174.30" x2="366.10" y2="177.10" stroke="#1a1a1a" stroke-width="0.95" />
<text x="366.10" y="185.60" font-size="8.3" text-anchor="middle" font-family='"Liberation Serif", serif' fill="#111"  stroke="#111" stroke-width="0.15">8</text>
<line x1="400.70" y1="174.30" x2="400.70" y2="177.10" stroke="#1a1a1a" stroke-width="0.95" />
<text x="400.70" y="185.60" font-size="8.3" text-anchor="middle" font-family='"Liberation Serif", serif' fill="#111"  stroke="#111" stroke-width="0.15">10</text>
<line x1="245.00" y1="174.30" x2="245.00" y2="175.80" stroke="#1a1a1a" stroke-width="0.95" />
<line x1="279.60" y1="174.30" x2="279.60" y2="175.80" stroke="#1a1a1a" stroke-width="0.95" />
<line x1="314.20" y1="174.30" x2="314.20" y2="175.80" stroke="#1a1a1a" stroke-width="0.95" />
<line x1="348.80" y1="174.30" x2="348.80" y2="175.80" stroke="#1a1a1a" stroke-width="0.95" />
<line x1="383.40" y1="174.30" x2="383.40" y2="175.80" stroke="#1a1a1a" stroke-width="0.95" />
<line x1="207.00" y1="174.30" x2="209.80" y2="174.30" stroke="#1a1a1a" stroke-width="0.95" />
<text transform="translate(204.60,176.58) scale(1.22,1)" font-size="6.9" text-anchor="end" font-family='"Liberation Serif", serif' fill="#111" letter-spacing="0.35" stroke="#111" stroke-width="0.15">0.0</text>
<line x1="207.00" y1="134.60" x2="209.80" y2="134.60" stroke="#1a1a1a" stroke-width="0.95" />
<text transform="translate(204.60,136.88) scale(1.22,1)" font-size="6.9" text-anchor="end" font-family='"Liberation Serif", serif' fill="#111" letter-spacing="0.35" stroke="#111" stroke-width="0.15">0.2</text>
<line x1="207.00" y1="94.90" x2="209.80" y2="94.90" stroke="#1a1a1a" stroke-width="0.95" />
<text transform="translate(204.60,97.18) scale(1.22,1)" font-size="6.9" text-anchor="end" font-family='"Liberation Serif", serif' fill="#111" letter-spacing="0.35" stroke="#111" stroke-width="0.15">0.4</text>
<line x1="207.00" y1="55.20" x2="209.80" y2="55.20" stroke="#1a1a1a" stroke-width="0.95" />
<text transform="translate(204.60,57.48) scale(1.22,1)" font-size="6.9" text-anchor="end" font-family='"Liberation Serif", serif' fill="#111" letter-spacing="0.35" stroke="#111" stroke-width="0.15">0.6</text>
<line x1="207.00" y1="15.50" x2="209.80" y2="15.50" stroke="#1a1a1a" stroke-width="0.95" />
<text transform="translate(204.60,17.78) scale(1.22,1)" font-size="6.9" text-anchor="end" font-family='"Liberation Serif", serif' fill="#111" letter-spacing="0.35" stroke="#111" stroke-width="0.15">0.8</text>
<line x1="208.30" y1="154.45" x2="209.80" y2="154.45" stroke="#1a1a1a" stroke-width="0.95" />
<line x1="208.30" y1="114.75" x2="209.80" y2="114.75" stroke="#1a1a1a" stroke-width="0.95" />
<line x1="208.30" y1="75.05" x2="209.80" y2="75.05" stroke="#1a1a1a" stroke-width="0.95" />
<line x1="208.30" y1="35.35" x2="209.80" y2="35.35" stroke="#1a1a1a" stroke-width="0.95" />
<text transform="translate(212.60,19.00) scale(0.9,1)" font-size="12" text-anchor="start" font-family='"Liberation Sans", sans-serif' fill="#000" stroke="#000" stroke-width="0.3">B</text>
<text transform="translate(317.30,198.60) scale(1.2,1)" font-size="7.5" text-anchor="middle" font-family='"Liberation Serif", serif' font-weight="bold" fill="#111" >Time (h)</text>
<text transform="translate(183.9,98.2) scale(1.2,1) rotate(-90)" stroke="#111" stroke-width="0.2" font-size="7.8" text-anchor="middle" font-family='"Liberation Serif", serif' font-weight="bold" fill="#111">OD<tspan dy="2.4">600</tspan></text>
<polyline points="227.70,160.80 245.00,160.21 262.30,160.01 279.60,159.21 296.90,155.44 314.20,143.93 331.50,126.66 348.80,104.83 366.10,79.42 383.40,76.44 400.70,64.53" fill="none" stroke="#4a4a4a" stroke-width="1.1" stroke-linejoin="round"/>
<line x1="366.10" y1="75.84" x2="366.10" y2="82.99" stroke="#4a4a4a" stroke-width="0.8" />
<line x1="364.40" y1="75.84" x2="367.80" y2="75.84" stroke="#4a4a4a" stroke-width="0.8" />
<line x1="364.40" y1="82.99" x2="367.80" y2="82.99" stroke="#4a4a4a" stroke-width="0.8" />
<line x1="400.70" y1="57.58" x2="400.70" y2="71.48" stroke="#4a4a4a" stroke-width="0.8" />
<line x1="399.00" y1="57.58" x2="402.40" y2="57.58" stroke="#4a4a4a" stroke-width="0.8" />
<line x1="399.00" y1="71.48" x2="402.40" y2="71.48" stroke="#4a4a4a" stroke-width="0.8" />
<rect x="226.12" y="159.23" width="3.15" height="3.15" fill="#4a4a4a"/>
<rect x="243.43" y="158.63" width="3.15" height="3.15" fill="#4a4a4a"/>
<rect x="260.73" y="158.43" width="3.15" height="3.15" fill="#4a4a4a"/>
<rect x="278.03" y="157.64" width="3.15" height="3.15" fill="#4a4a4a"/>
<rect x="295.32" y="153.87" width="3.15" height="3.15" fill="#4a4a4a"/>
<rect x="312.62" y="142.35" width="3.15" height="3.15" fill="#4a4a4a"/>
<rect x="329.93" y="125.09" width="3.15" height="3.15" fill="#4a4a4a"/>
<rect x="347.23" y="103.25" width="3.15" height="3.15" fill="#4a4a4a"/>
<rect x="364.53" y="77.84" width="3.15" height="3.15" fill="#4a4a4a"/>
<rect x="381.82" y="74.86" width="3.15" height="3.15" fill="#4a4a4a"/>
<rect x="399.12" y="62.95" width="3.15" height="3.15" fill="#4a4a4a"/>
<polyline points="227.70,160.80 245.00,160.21 262.30,160.01 279.60,159.41 296.90,155.44 314.20,147.11 331.50,126.66 348.80,104.83 366.10,88.55 383.40,83.98 400.70,78.03" fill="none" stroke="#F14040" stroke-width="1.1" stroke-linejoin="round"/>
<line x1="400.70" y1="71.68" x2="400.70" y2="84.38" stroke="#F14040" stroke-width="0.8" />
<line x1="399.00" y1="71.68" x2="402.40" y2="71.68" stroke="#F14040" stroke-width="0.8" />
<line x1="399.00" y1="84.38" x2="402.40" y2="84.38" stroke="#F14040" stroke-width="0.8" />
<circle cx="227.70" cy="160.80" r="1.75" fill="#F14040"/>
<circle cx="245.00" cy="160.21" r="1.75" fill="#F14040"/>
<circle cx="262.30" cy="160.01" r="1.75" fill="#F14040"/>
<circle cx="279.60" cy="159.41" r="1.75" fill="#F14040"/>
<circle cx="296.90" cy="155.44" r="1.75" fill="#F14040"/>
<circle cx="314.20" cy="147.11" r="1.75" fill="#F14040"/>
<circle cx="331.50" cy="126.66" r="1.75" fill="#F14040"/>
<circle cx="348.80" cy="104.83" r="1.75" fill="#F14040"/>
<circle cx="366.10" cy="88.55" r="1.75" fill="#F14040"/>
<circle cx="383.40" cy="83.98" r="1.75" fill="#F14040"/>
<circle cx="400.70" cy="78.03" r="1.75" fill="#F14040"/>
<polyline points="227.70,160.41 245.00,160.21 262.30,160.01 279.60,159.41 296.90,156.44 314.20,154.45 331.50,146.71 348.80,142.94 366.10,129.44 383.40,118.72 400.70,101.05" fill="none" stroke="#1A6FDF" stroke-width="1.1" stroke-linejoin="round"/>
<line x1="366.10" y1="127.45" x2="366.10" y2="131.42" stroke="#1A6FDF" stroke-width="0.8" />
<line x1="364.40" y1="127.45" x2="367.80" y2="127.45" stroke="#1A6FDF" stroke-width="0.8" />
<line x1="364.40" y1="131.42" x2="367.80" y2="131.42" stroke="#1A6FDF" stroke-width="0.8" />
<polygon points="227.70,158.31 229.71,161.98 225.69,161.98" fill="#1A6FDF"/>
<polygon points="245.00,158.11 247.01,161.78 242.99,161.78" fill="#1A6FDF"/>
<polygon points="262.30,157.91 264.31,161.58 260.29,161.58" fill="#1A6FDF"/>
<polygon points="279.60,157.31 281.61,160.99 277.59,160.99" fill="#1A6FDF"/>
<polygon points="296.90,154.34 298.91,158.01 294.89,158.01" fill="#1A6FDF"/>
<polygon points="314.20,152.35 316.21,156.03 312.19,156.03" fill="#1A6FDF"/>
<polygon points="331.50,144.61 333.51,148.28 329.49,148.28" fill="#1A6FDF"/>
<polygon points="348.80,140.84 350.81,144.51 346.79,144.51" fill="#1A6FDF"/>
<polygon points="366.10,127.34 368.11,131.01 364.09,131.01" fill="#1A6FDF"/>
<polygon points="383.40,116.62 385.41,120.30 381.39,120.30" fill="#1A6FDF"/>
<polygon points="400.70,98.95 402.71,102.63 398.69,102.63" fill="#1A6FDF"/>
<polyline points="227.70,160.80 245.00,160.21 262.30,160.01 279.60,160.01 296.90,158.42 314.20,156.44 331.50,153.26 348.80,153.26 366.10,145.32 383.40,137.58 400.70,113.96" fill="none" stroke="#37AD6B" stroke-width="1.1" stroke-linejoin="round"/>
<polygon points="227.70,162.90 229.71,159.23 225.69,159.23" fill="#37AD6B"/>
<polygon points="245.00,162.31 247.01,158.63 242.99,158.63" fill="#37AD6B"/>
<polygon points="262.30,162.11 264.31,158.43 260.29,158.43" fill="#37AD6B"/>
<polygon points="279.60,162.11 281.61,158.43 277.59,158.43" fill="#37AD6B"/>
<polygon points="296.90,160.52 298.91,156.85 294.89,156.85" fill="#37AD6B"/>
<polygon points="314.20,158.53 316.21,154.86 312.19,154.86" fill="#37AD6B"/>
<polygon points="331.50,155.36 333.51,151.68 329.49,151.68" fill="#37AD6B"/>
<polygon points="348.80,155.36 350.81,151.68 346.79,151.68" fill="#37AD6B"/>
<polygon points="366.10,147.42 368.11,143.74 364.09,143.74" fill="#37AD6B"/>
<polygon points="383.40,139.68 385.41,136.00 381.39,136.00" fill="#37AD6B"/>
<polygon points="400.70,116.06 402.71,112.38 398.69,112.38" fill="#37AD6B"/>
<polyline points="227.70,160.80 245.00,160.21 262.30,160.01 279.60,159.61 296.90,157.63 314.20,157.63 331.50,157.63 348.80,157.63 366.10,154.45 383.40,153.06 400.70,144.53" fill="none" stroke="#B177DE" stroke-width="1.1" stroke-linejoin="round"/>
<line x1="400.70" y1="142.14" x2="400.70" y2="146.91" stroke="#B177DE" stroke-width="0.8" />
<line x1="399.00" y1="142.14" x2="402.40" y2="142.14" stroke="#B177DE" stroke-width="0.8" />
<line x1="399.00" y1="146.91" x2="402.40" y2="146.91" stroke="#B177DE" stroke-width="0.8" />
<polygon points="227.70,158.53 229.62,160.80 227.70,163.08 225.77,160.80" fill="#B177DE"/>
<polygon points="245.00,157.93 246.93,160.21 245.00,162.48 243.07,160.21" fill="#B177DE"/>
<polygon points="262.30,157.73 264.23,160.01 262.30,162.28 260.38,160.01" fill="#B177DE"/>
<polygon points="279.60,157.34 281.53,159.61 279.60,161.89 277.68,159.61" fill="#B177DE"/>
<polygon points="296.90,155.35 298.82,157.63 296.90,159.90 294.97,157.63" fill="#B177DE"/>
<polygon points="314.20,155.35 316.12,157.63 314.20,159.90 312.27,157.63" fill="#B177DE"/>
<polygon points="331.50,155.35 333.43,157.63 331.50,159.90 329.57,157.63" fill="#B177DE"/>
<polygon points="348.80,155.35 350.73,157.63 348.80,159.90 346.88,157.63" fill="#B177DE"/>
<polygon points="366.10,152.18 368.03,154.45 366.10,156.73 364.18,154.45" fill="#B177DE"/>
<polygon points="383.40,150.79 385.32,153.06 383.40,155.34 381.47,153.06" fill="#B177DE"/>
<polygon points="400.70,142.25 402.62,144.53 400.70,146.80 398.77,144.53" fill="#B177DE"/>
<polyline points="227.70,160.80 245.00,160.21 262.30,160.01 279.60,160.01 296.90,159.61 314.20,159.61 331.50,159.61 348.80,159.61 366.10,158.62 383.40,156.44 400.70,150.88" fill="none" stroke="#E0A010" stroke-width="1.1" stroke-linejoin="round"/>
<line x1="400.70" y1="142.94" x2="400.70" y2="158.82" stroke="#E0A010" stroke-width="0.8" />
<line x1="399.00" y1="142.94" x2="402.40" y2="142.94" stroke="#E0A010" stroke-width="0.8" />
<line x1="399.00" y1="158.82" x2="402.40" y2="158.82" stroke="#E0A010" stroke-width="0.8" />
<polygon points="225.60,160.80 229.27,158.79 229.27,162.81" fill="#E0A010"/>
<polygon points="242.90,160.21 246.57,158.19 246.57,162.22" fill="#E0A010"/>
<polygon points="260.20,160.01 263.88,158.00 263.88,162.02" fill="#E0A010"/>
<polygon points="277.50,160.01 281.18,158.00 281.18,162.02" fill="#E0A010"/>
<polygon points="294.80,159.61 298.47,157.60 298.47,161.62" fill="#E0A010"/>
<polygon points="312.10,159.61 315.77,157.60 315.77,161.62" fill="#E0A010"/>
<polygon points="329.40,159.61 333.07,157.60 333.07,161.62" fill="#E0A010"/>
<polygon points="346.70,159.61 350.38,157.60 350.38,161.62" fill="#E0A010"/>
<polygon points="364.00,158.62 367.68,156.61 367.68,160.63" fill="#E0A010"/>
<polygon points="381.30,156.44 384.97,154.42 384.97,158.45" fill="#E0A010"/>
<polygon points="398.60,150.88 402.27,148.86 402.27,152.89" fill="#E0A010"/>
<polyline points="227.70,160.41 245.00,160.21 262.30,160.01 279.60,159.61 296.90,159.21 314.20,159.21 331.50,159.21 348.80,159.21 366.10,156.44 383.40,149.88 400.70,129.44" fill="none" stroke="#00CBCC" stroke-width="1.1" stroke-linejoin="round"/>
<line x1="400.70" y1="124.48" x2="400.70" y2="134.40" stroke="#00CBCC" stroke-width="0.8" />
<line x1="399.00" y1="124.48" x2="402.40" y2="124.48" stroke="#00CBCC" stroke-width="0.8" />
<line x1="399.00" y1="134.40" x2="402.40" y2="134.40" stroke="#00CBCC" stroke-width="0.8" />
<polygon points="229.80,160.41 226.12,158.39 226.12,162.42" fill="#00CBCC"/>
<polygon points="247.10,160.21 243.43,158.19 243.43,162.22" fill="#00CBCC"/>
<polygon points="264.40,160.01 260.73,158.00 260.73,162.02" fill="#00CBCC"/>
<polygon points="281.70,159.61 278.03,157.60 278.03,161.62" fill="#00CBCC"/>
<polygon points="299.00,159.21 295.32,157.20 295.32,161.23" fill="#00CBCC"/>
<polygon points="316.30,159.21 312.62,157.20 312.62,161.23" fill="#00CBCC"/>
<polygon points="333.60,159.21 329.93,157.20 329.93,161.23" fill="#00CBCC"/>
<polygon points="350.90,159.21 347.23,157.20 347.23,161.23" fill="#00CBCC"/>
<polygon points="368.20,156.44 364.53,154.42 364.53,158.45" fill="#00CBCC"/>
<polygon points="385.50,149.88 381.82,147.87 381.82,151.90" fill="#00CBCC"/>
<polygon points="402.80,129.44 399.12,127.43 399.12,131.45" fill="#00CBCC"/>
<polyline points="227.70,161.20 245.00,160.21 262.30,160.01 279.60,158.02 296.90,149.88 314.20,131.23 331.50,93.31 348.80,90.93 366.10,80.61 383.40,76.24 400.70,61.55" fill="none" stroke="#7D4E4E" stroke-width="1.1" stroke-linejoin="round"/>
<line x1="366.10" y1="78.62" x2="366.10" y2="82.59" stroke="#7D4E4E" stroke-width="0.8" />
<line x1="364.40" y1="78.62" x2="367.80" y2="78.62" stroke="#7D4E4E" stroke-width="0.8" />
<line x1="364.40" y1="82.59" x2="367.80" y2="82.59" stroke="#7D4E4E" stroke-width="0.8" />
<line x1="383.40" y1="73.07" x2="383.40" y2="79.42" stroke="#7D4E4E" stroke-width="0.8" />
<line x1="381.70" y1="73.07" x2="385.10" y2="73.07" stroke="#7D4E4E" stroke-width="0.8" />
<line x1="381.70" y1="79.42" x2="385.10" y2="79.42" stroke="#7D4E4E" stroke-width="0.8" />
<line x1="400.70" y1="52.62" x2="400.70" y2="70.48" stroke="#7D4E4E" stroke-width="0.8" />
<line x1="399.00" y1="52.62" x2="402.40" y2="52.62" stroke="#7D4E4E" stroke-width="0.8" />
<line x1="399.00" y1="70.48" x2="402.40" y2="70.48" stroke="#7D4E4E" stroke-width="0.8" />
<circle cx="227.70" cy="161.20" r="1.75" fill="#7D4E4E"/>
<circle cx="245.00" cy="160.21" r="1.75" fill="#7D4E4E"/>
<circle cx="262.30" cy="160.01" r="1.75" fill="#7D4E4E"/>
<circle cx="279.60" cy="158.02" r="1.75" fill="#7D4E4E"/>
<circle cx="296.90" cy="149.88" r="1.75" fill="#7D4E4E"/>
<circle cx="314.20" cy="131.23" r="1.75" fill="#7D4E4E"/>
<circle cx="331.50" cy="93.31" r="1.75" fill="#7D4E4E"/>
<circle cx="348.80" cy="90.93" r="1.75" fill="#7D4E4E"/>
<circle cx="366.10" cy="80.61" r="1.75" fill="#7D4E4E"/>
<circle cx="383.40" cy="76.24" r="1.75" fill="#7D4E4E"/>
<circle cx="400.70" cy="61.55" r="1.75" fill="#7D4E4E"/>
<polyline points="227.70,160.80 245.00,160.21 262.30,160.01 279.60,160.01 296.90,160.21 314.20,160.41 331.50,160.60 348.80,160.60 366.10,160.60 383.40,160.80 400.70,160.50" fill="none" stroke="#9A9A10" stroke-width="1.1" stroke-linejoin="round"/>
<polygon points="227.70,158.53 228.27,160.02 229.86,160.10 228.62,161.10 229.04,162.64 227.70,161.76 226.36,162.64 226.78,161.10 225.54,160.10 227.13,160.02" fill="#9A9A10"/>
<polygon points="245.00,157.93 245.57,159.43 247.16,159.50 245.92,160.50 246.34,162.05 245.00,161.17 243.66,162.05 244.08,160.50 242.84,159.50 244.43,159.43" fill="#9A9A10"/>
<polygon points="262.30,157.73 262.87,159.23 264.46,159.30 263.22,160.31 263.64,161.85 262.30,160.97 260.96,161.85 261.38,160.31 260.14,159.30 261.73,159.23" fill="#9A9A10"/>
<polygon points="279.60,157.73 280.17,159.23 281.76,159.30 280.52,160.31 280.94,161.85 279.60,160.97 278.26,161.85 278.68,160.31 277.44,159.30 279.03,159.23" fill="#9A9A10"/>
<polygon points="296.90,157.93 297.47,159.43 299.06,159.50 297.82,160.50 298.24,162.05 296.90,161.17 295.56,162.05 295.98,160.50 294.74,159.50 296.33,159.43" fill="#9A9A10"/>
<polygon points="314.20,158.13 314.77,159.63 316.36,159.70 315.12,160.70 315.54,162.25 314.20,161.37 312.86,162.25 313.28,160.70 312.04,159.70 313.63,159.63" fill="#9A9A10"/>
<polygon points="331.50,158.33 332.07,159.82 333.66,159.90 332.42,160.90 332.84,162.44 331.50,161.57 330.16,162.44 330.58,160.90 329.34,159.90 330.93,159.82" fill="#9A9A10"/>
<polygon points="348.80,158.33 349.37,159.82 350.96,159.90 349.72,160.90 350.14,162.44 348.80,161.57 347.46,162.44 347.88,160.90 346.64,159.90 348.23,159.82" fill="#9A9A10"/>
<polygon points="366.10,158.33 366.67,159.82 368.26,159.90 367.02,160.90 367.44,162.44 366.10,161.57 364.76,162.44 365.18,160.90 363.94,159.90 365.53,159.82" fill="#9A9A10"/>
<polygon points="383.40,158.53 383.97,160.02 385.56,160.10 384.32,161.10 384.74,162.64 383.40,161.76 382.06,162.64 382.48,161.10 381.24,160.10 382.83,160.02" fill="#9A9A10"/>
<polygon points="400.70,158.23 401.27,159.73 402.86,159.80 401.62,160.80 402.04,162.34 400.70,161.47 399.36,162.34 399.78,160.80 398.54,159.80 400.13,159.73" fill="#9A9A10"/>
<line x1="227.60" y1="27.00" x2="243.60" y2="27.00" stroke="#4a4a4a" stroke-width="1.1" />
<rect x="234.16" y="25.56" width="2.88" height="2.88" fill="#4a4a4a"/>
<text transform="translate(245.90,29.00) scale(1.2,1)" font-size="5.85" text-anchor="start" font-family='"Liberation Serif", serif' fill="#111"  stroke="#111" stroke-width="0.15">MOI=0.001</text>
<line x1="227.60" y1="34.68" x2="243.60" y2="34.68" stroke="#F14040" stroke-width="1.1" />
<circle cx="235.60" cy="34.68" r="1.60" fill="#F14040"/>
<text transform="translate(245.90,36.68) scale(1.2,1)" font-size="5.85" text-anchor="start" font-family='"Liberation Serif", serif' fill="#111"  stroke="#111" stroke-width="0.15">MOI=0.01</text>
<line x1="227.60" y1="42.36" x2="243.60" y2="42.36" stroke="#1A6FDF" stroke-width="1.1" />
<polygon points="235.60,40.44 237.44,43.80 233.76,43.80" fill="#1A6FDF"/>
<text transform="translate(245.90,44.36) scale(1.2,1)" font-size="5.85" text-anchor="start" font-family='"Liberation Serif", serif' fill="#111"  stroke="#111" stroke-width="0.15">MOI=0.1</text>
<line x1="227.60" y1="50.04" x2="243.60" y2="50.04" stroke="#37AD6B" stroke-width="1.1" />
<polygon points="235.60,51.96 237.44,48.60 233.76,48.60" fill="#37AD6B"/>
<text transform="translate(245.90,52.04) scale(1.2,1)" font-size="5.85" text-anchor="start" font-family='"Liberation Serif", serif' fill="#111"  stroke="#111" stroke-width="0.15">MOI=1</text>
<line x1="227.60" y1="57.72" x2="243.60" y2="57.72" stroke="#B177DE" stroke-width="1.1" />
<polygon points="235.60,55.64 237.36,57.72 235.60,59.80 233.84,57.72" fill="#B177DE"/>
<text transform="translate(245.90,59.72) scale(1.2,1)" font-size="5.85" text-anchor="start" font-family='"Liberation Serif", serif' fill="#111"  stroke="#111" stroke-width="0.15">MOI=10</text>
<line x1="227.60" y1="65.40" x2="243.60" y2="65.40" stroke="#E0A010" stroke-width="1.1" />
<polygon points="233.68,65.40 237.04,63.56 237.04,67.24" fill="#E0A010"/>
<text transform="translate(245.90,67.40) scale(1.2,1)" font-size="5.85" text-anchor="start" font-family='"Liberation Serif", serif' fill="#111"  stroke="#111" stroke-width="0.15">MOI=100</text>
<line x1="227.60" y1="73.08" x2="243.60" y2="73.08" stroke="#00CBCC" stroke-width="1.1" />
<polygon points="237.52,73.08 234.16,71.24 234.16,74.92" fill="#00CBCC"/>
<text transform="translate(245.90,75.08) scale(1.2,1)" font-size="5.85" text-anchor="start" font-family='"Liberation Serif", serif' fill="#111"  stroke="#111" stroke-width="0.15">MOI=1000</text>
<line x1="227.60" y1="80.76" x2="243.60" y2="80.76" stroke="#7D4E4E" stroke-width="1.1" />
<circle cx="235.60" cy="80.76" r="1.60" fill="#7D4E4E"/>
<text transform="translate(245.90,82.76) scale(1.2,1)" font-size="5.85" text-anchor="start" font-family='"Liberation Serif", serif' fill="#111"  stroke="#111" stroke-width="0.15">Positive control</text>
<line x1="227.60" y1="88.44" x2="243.60" y2="88.44" stroke="#9A9A10" stroke-width="1.1" />
<polygon points="235.60,86.36 236.12,87.73 237.58,87.80 236.44,88.71 236.82,90.12 235.60,89.32 234.38,90.12 234.76,88.71 233.62,87.80 235.08,87.73" fill="#9A9A10"/>
<text transform="translate(245.90,90.44) scale(1.2,1)" font-size="5.85" text-anchor="start" font-family='"Liberation Serif", serif' fill="#111"  stroke="#111" stroke-width="0.15">Negative control</text>
</g>
<g id="panelC">
<line x1="29.90" y1="348.40" x2="193.50" y2="348.40" stroke="#1a1a1a" stroke-width="0.95" />
<line x1="29.90" y1="348.88" x2="29.90" y2="217.10" stroke="#1a1a1a" stroke-width="0.95" />
<line x1="29.90" y1="348.40" x2="29.90" y2="351.00" stroke="#1a1a1a" stroke-width="0.95" />
<text x="29.90" y="358.80" font-size="7.7" text-anchor="middle" font-family='"Liberation Serif", serif' fill="#111"  stroke="#111" stroke-width="0.15">0</text>
<line x1="59.55" y1="348.40" x2="59.55" y2="351.00" stroke="#1a1a1a" stroke-width="0.95" />
<text x="59.55" y="358.80" font-size="7.7" text-anchor="middle" font-family='"Liberation Serif", serif' fill="#111"  stroke="#111" stroke-width="0.15">5</text>
<line x1="89.20" y1="348.40" x2="89.20" y2="351.00" stroke="#1a1a1a" stroke-width="0.95" />
<text x="89.20" y="358.80" font-size="7.7" text-anchor="middle" font-family='"Liberation Serif", serif' fill="#111"  stroke="#111" stroke-width="0.15">10</text>
<line x1="118.85" y1="348.40" x2="118.85" y2="351.00" stroke="#1a1a1a" stroke-width="0.95" />
<text x="118.85" y="358.80" font-size="7.7" text-anchor="middle" font-family='"Liberation Serif", serif' fill="#111"  stroke="#111" stroke-width="0.15">15</text>
<line x1="148.50" y1="348.40" x2="148.50" y2="351.00" stroke="#1a1a1a" stroke-width="0.95" />
<text x="148.50" y="358.80" font-size="7.7" text-anchor="middle" font-family='"Liberation Serif", serif' fill="#111"  stroke="#111" stroke-width="0.15">20</text>
<line x1="178.15" y1="348.40" x2="178.15" y2="351.00" stroke="#1a1a1a" stroke-width="0.95" />
<text x="178.15" y="358.80" font-size="7.7" text-anchor="middle" font-family='"Liberation Serif", serif' fill="#111"  stroke="#111" stroke-width="0.15">25</text>
<line x1="44.72" y1="348.40" x2="44.72" y2="349.80" stroke="#1a1a1a" stroke-width="0.95" />
<line x1="74.38" y1="348.40" x2="74.38" y2="349.80" stroke="#1a1a1a" stroke-width="0.95" />
<line x1="104.03" y1="348.40" x2="104.03" y2="349.80" stroke="#1a1a1a" stroke-width="0.95" />
<line x1="133.67" y1="348.40" x2="133.67" y2="349.80" stroke="#1a1a1a" stroke-width="0.95" />
<line x1="163.32" y1="348.40" x2="163.32" y2="349.80" stroke="#1a1a1a" stroke-width="0.95" />
<line x1="192.97" y1="348.40" x2="192.97" y2="349.80" stroke="#1a1a1a" stroke-width="0.95" />
<line x1="27.30" y1="348.40" x2="29.90" y2="348.40" stroke="#1a1a1a" stroke-width="0.95" />
<text x="25.70" y="350.94" font-size="7.7" text-anchor="end" font-family='"Liberation Serif", serif' fill="#111"  stroke="#111" stroke-width="0.15">0</text>
<line x1="27.30" y1="322.15" x2="29.90" y2="322.15" stroke="#1a1a1a" stroke-width="0.95" />
<text x="25.70" y="324.69" font-size="7.7" text-anchor="end" font-family='"Liberation Serif", serif' fill="#111"  stroke="#111" stroke-width="0.15">20</text>
<line x1="27.30" y1="295.90" x2="29.90" y2="295.90" stroke="#1a1a1a" stroke-width="0.95" />
<text x="25.70" y="298.44" font-size="7.7" text-anchor="end" font-family='"Liberation Serif", serif' fill="#111"  stroke="#111" stroke-width="0.15">40</text>
<line x1="27.30" y1="269.65" x2="29.90" y2="269.65" stroke="#1a1a1a" stroke-width="0.95" />
<text x="25.70" y="272.19" font-size="7.7" text-anchor="end" font-family='"Liberation Serif", serif' fill="#111"  stroke="#111" stroke-width="0.15">60</text>
<line x1="27.30" y1="243.40" x2="29.90" y2="243.40" stroke="#1a1a1a" stroke-width="0.95" />
<text x="25.70" y="245.94" font-size="7.7" text-anchor="end" font-family='"Liberation Serif", serif' fill="#111"  stroke="#111" stroke-width="0.15">80</text>
<line x1="27.30" y1="217.15" x2="29.90" y2="217.15" stroke="#1a1a1a" stroke-width="0.95" />
<text x="25.70" y="219.69" font-size="7.7" text-anchor="end" font-family='"Liberation Serif", serif' fill="#111"  stroke="#111" stroke-width="0.15">100</text>
<line x1="28.50" y1="335.27" x2="29.90" y2="335.27" stroke="#1a1a1a" stroke-width="0.95" />
<line x1="28.50" y1="309.02" x2="29.90" y2="309.02" stroke="#1a1a1a" stroke-width="0.95" />
<line x1="28.50" y1="282.77" x2="29.90" y2="282.77" stroke="#1a1a1a" stroke-width="0.95" />
<line x1="28.50" y1="256.52" x2="29.90" y2="256.52" stroke="#1a1a1a" stroke-width="0.95" />
<line x1="28.50" y1="230.27" x2="29.90" y2="230.27" stroke="#1a1a1a" stroke-width="0.95" />
<text transform="translate(4.90,209.60) scale(0.9,1)" font-size="12" text-anchor="start" font-family='"Liberation Sans", sans-serif' fill="#000" stroke="#000" stroke-width="0.3">C</text>
<text x="111.50" y="371.00" font-size="7.5" text-anchor="middle" font-family='"Liberation Serif", serif' font-weight="bold" fill="#111" >Time (min)</text>
<text transform="translate(13.60,282.20) rotate(-90)" font-size="7.3" text-anchor="middle" font-family='"Liberation Serif", serif' font-weight="bold" fill="#111">Adsorption (%)</text>
<polyline points="29.90,348.40 47.69,304.69 65.48,292.49 83.27,312.96 101.06,300.36 118.85,269.12 136.64,316.38 154.43,320.31 172.22,348.40" fill="none" stroke="#3a3a3a" stroke-width="0.7" stroke-linejoin="round"/>
<line x1="47.69" y1="302.07" x2="47.69" y2="307.32" stroke="#3a3a3a" stroke-width="0.6" />
<line x1="46.39" y1="302.07" x2="48.99" y2="302.07" stroke="#3a3a3a" stroke-width="0.6" />
<line x1="46.39" y1="307.32" x2="48.99" y2="307.32" stroke="#3a3a3a" stroke-width="0.6" />
<line x1="136.64" y1="310.73" x2="136.64" y2="322.94" stroke="#3a3a3a" stroke-width="0.6" />
<line x1="135.34" y1="310.73" x2="137.94" y2="310.73" stroke="#3a3a3a" stroke-width="0.6" />
<line x1="135.34" y1="322.94" x2="137.94" y2="322.94" stroke="#3a3a3a" stroke-width="0.6" />
<rect x="28.77" y="347.27" width="2.25" height="2.25" fill="#2a2a2a"/>
<rect x="46.56" y="303.57" width="2.25" height="2.25" fill="#2a2a2a"/>
<rect x="64.35" y="291.36" width="2.25" height="2.25" fill="#2a2a2a"/>
<rect x="82.14" y="311.84" width="2.25" height="2.25" fill="#2a2a2a"/>
<rect x="99.94" y="299.24" width="2.25" height="2.25" fill="#2a2a2a"/>
<rect x="117.72" y="268.00" width="2.25" height="2.25" fill="#2a2a2a"/>
<rect x="135.51" y="315.25" width="2.25" height="2.25" fill="#2a2a2a"/>
<rect x="153.31" y="319.19" width="2.25" height="2.25" fill="#2a2a2a"/>
<rect x="171.09" y="347.27" width="2.25" height="2.25" fill="#2a2a2a"/>
</g>
<g id="panelD">
<line x1="215.50" y1="346.10" x2="378.50" y2="346.10" stroke="#1a1a1a" stroke-width="0.95" />
<line x1="215.50" y1="346.58" x2="215.50" y2="206.90" stroke="#1a1a1a" stroke-width="0.95" />
<line x1="215.50" y1="346.10" x2="215.50" y2="348.70" stroke="#1a1a1a" stroke-width="0.95" />
<text x="215.50" y="356.70" font-size="7.6" text-anchor="middle" font-family='"Liberation Serif", serif' fill="#111"  stroke="#111" stroke-width="0.15">0</text>
<line x1="233.62" y1="346.10" x2="233.62" y2="348.70" stroke="#1a1a1a" stroke-width="0.95" />
<text x="233.62" y="356.70" font-size="7.6" text-anchor="middle" font-family='"Liberation Serif", serif' fill="#111"  stroke="#111" stroke-width="0.15">20</text>
<line x1="251.74" y1="346.10" x2="251.74" y2="348.70" stroke="#1a1a1a" stroke-width="0.95" />
<text x="251.74" y="356.70" font-size="7.6" text-anchor="middle" font-family='"Liberation Serif", serif' fill="#111"  stroke="#111" stroke-width="0.15">40</text>
<line x1="269.86" y1="346.10" x2="269.86" y2="348.70" stroke="#1a1a1a" stroke-width="0.95" />
<text x="269.86" y="356.70" font-size="7.6" text-anchor="middle" font-family='"Liberation Serif", serif' fill="#111"  stroke="#111" stroke-width="0.15">60</text>
<line x1="287.98" y1="346.10" x2="287.98" y2="348.70" stroke="#1a1a1a" stroke-width="0.95" />
<text x="287.98" y="356.70" font-size="7.6" text-anchor="middle" font-family='"Liberation Serif", serif' fill="#111"  stroke="#111" stroke-width="0.15">80</text>
<line x1="306.10" y1="346.10" x2="306.10" y2="348.70" stroke="#1a1a1a" stroke-width="0.95" />
<text x="306.10" y="356.70" font-size="7.6" text-anchor="middle" font-family='"Liberation Serif", serif' fill="#111"  stroke="#111" stroke-width="0.15">100</text>
<line x1="324.22" y1="346.10" x2="324.22" y2="348.70" stroke="#1a1a1a" stroke-width="0.95" />
<text x="324.22" y="356.70" font-size="7.6" text-anchor="middle" font-family='"Liberation Serif", serif' fill="#111"  stroke="#111" stroke-width="0.15">120</text>
<line x1="342.34" y1="346.10" x2="342.34" y2="348.70" stroke="#1a1a1a" stroke-width="0.95" />
<text x="342.34" y="356.70" font-size="7.6" text-anchor="middle" font-family='"Liberation Serif", serif' fill="#111"  stroke="#111" stroke-width="0.15">140</text>
<line x1="360.46" y1="346.10" x2="360.46" y2="348.70" stroke="#1a1a1a" stroke-width="0.95" />
<text x="360.46" y="356.70" font-size="7.6" text-anchor="middle" font-family='"Liberation Serif", serif' fill="#111"  stroke="#111" stroke-width="0.15">160</text>
<line x1="378.58" y1="346.10" x2="378.58" y2="348.70" stroke="#1a1a1a" stroke-width="0.95" />
<text x="378.58" y="356.70" font-size="7.6" text-anchor="middle" font-family='"Liberation Serif", serif' fill="#111"  stroke="#111" stroke-width="0.15">180</text>
<line x1="224.56" y1="346.10" x2="224.56" y2="347.50" stroke="#1a1a1a" stroke-width="0.95" />
<line x1="242.68" y1="346.10" x2="242.68" y2="347.50" stroke="#1a1a1a" stroke-width="0.95" />
<line x1="260.80" y1="346.10" x2="260.80" y2="347.50" stroke="#1a1a1a" stroke-width="0.95" />
<line x1="278.92" y1="346.10" x2="278.92" y2="347.50" stroke="#1a1a1a" stroke-width="0.95" />
<line x1="297.04" y1="346.10" x2="297.04" y2="347.50" stroke="#1a1a1a" stroke-width="0.95" />
<line x1="315.16" y1="346.10" x2="315.16" y2="347.50" stroke="#1a1a1a" stroke-width="0.95" />
<line x1="333.28" y1="346.10" x2="333.28" y2="347.50" stroke="#1a1a1a" stroke-width="0.95" />
<line x1="351.40" y1="346.10" x2="351.40" y2="347.50" stroke="#1a1a1a" stroke-width="0.95" />
<line x1="369.52" y1="346.10" x2="369.52" y2="347.50" stroke="#1a1a1a" stroke-width="0.95" />
<line x1="212.90" y1="346.10" x2="215.50" y2="346.10" stroke="#1a1a1a" stroke-width="0.95" />
<text x="211.50" y="348.38" font-size="6.9" text-anchor="end" font-family='"Liberation Serif", serif' fill="#111"  stroke="#111" stroke-width="0.15">0</text>
<line x1="212.90" y1="318.30" x2="215.50" y2="318.30" stroke="#1a1a1a" stroke-width="0.95" />
<text x="211.50" y="320.58" font-size="6.9" text-anchor="end" font-family='"Liberation Serif", serif' fill="#111"  stroke="#111" stroke-width="0.15">2</text>
<line x1="212.90" y1="290.50" x2="215.50" y2="290.50" stroke="#1a1a1a" stroke-width="0.95" />
<text x="211.50" y="292.78" font-size="6.9" text-anchor="end" font-family='"Liberation Serif", serif' fill="#111"  stroke="#111" stroke-width="0.15">4</text>
<line x1="212.90" y1="262.70" x2="215.50" y2="262.70" stroke="#1a1a1a" stroke-width="0.95" />
<text x="211.50" y="264.98" font-size="6.9" text-anchor="end" font-family='"Liberation Serif", serif' fill="#111"  stroke="#111" stroke-width="0.15">6</text>
<line x1="212.90" y1="234.90" x2="215.50" y2="234.90" stroke="#1a1a1a" stroke-width="0.95" />
<text x="211.50" y="237.18" font-size="6.9" text-anchor="end" font-family='"Liberation Serif", serif' fill="#111"  stroke="#111" stroke-width="0.15">8</text>
<line x1="212.90" y1="207.10" x2="215.50" y2="207.10" stroke="#1a1a1a" stroke-width="0.95" />
<text x="211.50" y="209.38" font-size="6.9" text-anchor="end" font-family='"Liberation Serif", serif' fill="#111"  stroke="#111" stroke-width="0.15">10</text>
<line x1="214.10" y1="332.20" x2="215.50" y2="332.20" stroke="#1a1a1a" stroke-width="0.95" />
<line x1="214.10" y1="304.40" x2="215.50" y2="304.40" stroke="#1a1a1a" stroke-width="0.95" />
<line x1="214.10" y1="276.60" x2="215.50" y2="276.60" stroke="#1a1a1a" stroke-width="0.95" />
<line x1="214.10" y1="248.80" x2="215.50" y2="248.80" stroke="#1a1a1a" stroke-width="0.95" />
<line x1="214.10" y1="221.00" x2="215.50" y2="221.00" stroke="#1a1a1a" stroke-width="0.95" />
<text transform="translate(185.00,211.00) scale(0.9,1)" font-size="12" text-anchor="start" font-family='"Liberation Sans", sans-serif' fill="#000" stroke="#000" stroke-width="0.3">D</text>
<text x="297.00" y="368.60" font-size="7.5" text-anchor="middle" font-family='"Liberation Serif", serif' font-weight="bold" fill="#111" >Time (min)</text>
<text transform="translate(201.6,276) rotate(-90)" font-size="7.5" text-anchor="middle" font-family='"Liberation Serif", serif' font-weight="bold" fill="#111">Phage titer (Log<tspan font-size="4.6" dy="1.5">10</tspan><tspan dy="-1.5">PFU/mL)</tspan></text>
<polyline points="215.50,304.26 224.56,291.06 233.62,289.67 242.68,270.90 251.74,258.67 260.80,256.45 269.86,258.11 278.92,254.64 287.98,252.97 297.04,250.61 306.10,245.74 315.16,243.80 324.22,243.24 333.28,242.96 342.34,239.49 351.40,236.57 360.46,232.95 369.52,234.21 378.58,232.95" fill="none" stroke="#3a3a3a" stroke-width="0.7" stroke-linejoin="round"/>
<line x1="269.86" y1="256.03" x2="269.86" y2="260.20" stroke="#3a3a3a" stroke-width="0.6" />
<line x1="268.66" y1="256.03" x2="271.06" y2="256.03" stroke="#3a3a3a" stroke-width="0.6" />
<line x1="268.66" y1="260.20" x2="271.06" y2="260.20" stroke="#3a3a3a" stroke-width="0.6" />
<line x1="306.10" y1="243.66" x2="306.10" y2="247.83" stroke="#3a3a3a" stroke-width="0.6" />
<line x1="304.90" y1="243.66" x2="307.30" y2="243.66" stroke="#3a3a3a" stroke-width="0.6" />
<line x1="304.90" y1="247.83" x2="307.30" y2="247.83" stroke="#3a3a3a" stroke-width="0.6" />
<line x1="342.34" y1="236.71" x2="342.34" y2="242.27" stroke="#3a3a3a" stroke-width="0.6" />
<line x1="341.14" y1="236.71" x2="343.54" y2="236.71" stroke="#3a3a3a" stroke-width="0.6" />
<line x1="341.14" y1="242.27" x2="343.54" y2="242.27" stroke="#3a3a3a" stroke-width="0.6" />
<line x1="351.40" y1="234.48" x2="351.40" y2="238.65" stroke="#3a3a3a" stroke-width="0.6" />
<line x1="350.20" y1="234.48" x2="352.60" y2="234.48" stroke="#3a3a3a" stroke-width="0.6" />
<line x1="350.20" y1="238.65" x2="352.60" y2="238.65" stroke="#3a3a3a" stroke-width="0.6" />
<line x1="278.92" y1="253.53" x2="278.92" y2="255.75" stroke="#3a3a3a" stroke-width="0.6" />
<line x1="277.72" y1="253.53" x2="280.12" y2="253.53" stroke="#3a3a3a" stroke-width="0.6" />
<line x1="277.72" y1="255.75" x2="280.12" y2="255.75" stroke="#3a3a3a" stroke-width="0.6" />
<line x1="287.98" y1="251.58" x2="287.98" y2="254.36" stroke="#3a3a3a" stroke-width="0.6" />
<line x1="286.78" y1="251.58" x2="289.18" y2="251.58" stroke="#3a3a3a" stroke-width="0.6" />
<line x1="286.78" y1="254.36" x2="289.18" y2="254.36" stroke="#3a3a3a" stroke-width="0.6" />
<line x1="297.04" y1="249.50" x2="297.04" y2="251.72" stroke="#3a3a3a" stroke-width="0.6" />
<line x1="295.84" y1="249.50" x2="298.24" y2="249.50" stroke="#3a3a3a" stroke-width="0.6" />
<line x1="295.84" y1="251.72" x2="298.24" y2="251.72" stroke="#3a3a3a" stroke-width="0.6" />
<line x1="333.28" y1="241.57" x2="333.28" y2="244.35" stroke="#3a3a3a" stroke-width="0.6" />
<line x1="332.08" y1="241.57" x2="334.48" y2="241.57" stroke="#3a3a3a" stroke-width="0.6" />
<line x1="332.08" y1="244.35" x2="334.48" y2="244.35" stroke="#3a3a3a" stroke-width="0.6" />
<circle cx="215.50" cy="304.26" r="1.35" fill="#2a2a2a"/>
<circle cx="224.56" cy="291.06" r="1.35" fill="#2a2a2a"/>
<circle cx="233.62" cy="289.67" r="1.35" fill="#2a2a2a"/>
<circle cx="242.68" cy="270.90" r="1.35" fill="#2a2a2a"/>
<circle cx="251.74" cy="258.67" r="1.35" fill="#2a2a2a"/>
<circle cx="260.80" cy="256.45" r="1.35" fill="#2a2a2a"/>
<circle cx="269.86" cy="258.11" r="1.35" fill="#2a2a2a"/>
<circle cx="278.92" cy="254.64" r="1.35" fill="#2a2a2a"/>
<circle cx="287.98" cy="252.97" r="1.35" fill="#2a2a2a"/>
<circle cx="297.04" cy="250.61" r="1.35" fill="#2a2a2a"/>
<circle cx="306.10" cy="245.74" r="1.35" fill="#2a2a2a"/>
<circle cx="315.16" cy="243.80" r="1.35" fill="#2a2a2a"/>
<circle cx="324.22" cy="243.24" r="1.35" fill="#2a2a2a"/>
<circle cx="333.28" cy="242.96" r="1.35" fill="#2a2a2a"/>
<circle cx="342.34" cy="239.49" r="1.35" fill="#2a2a2a"/>
<circle cx="351.40" cy="236.57" r="1.35" fill="#2a2a2a"/>
<circle cx="360.46" cy="232.95" r="1.35" fill="#2a2a2a"/>
<circle cx="369.52" cy="234.21" r="1.35" fill="#2a2a2a"/>
<circle cx="378.58" cy="232.95" r="1.35" fill="#2a2a2a"/>
</g>
<g id="panelE">
<line x1="27.80" y1="522.20" x2="190.60" y2="522.20" stroke="#1a1a1a" stroke-width="0.95" />
<line x1="27.80" y1="522.68" x2="27.80" y2="377.20" stroke="#1a1a1a" stroke-width="0.95" />
<line x1="27.80" y1="522.20" x2="27.80" y2="524.80" stroke="#1a1a1a" stroke-width="0.95" />
<text x="27.80" y="532.70" font-size="7.7" text-anchor="middle" font-family='"Liberation Serif", serif' fill="#111"  stroke="#111" stroke-width="0.15">0</text>
<line x1="51.06" y1="522.20" x2="51.06" y2="524.80" stroke="#1a1a1a" stroke-width="0.95" />
<text x="51.06" y="532.70" font-size="7.7" text-anchor="middle" font-family='"Liberation Serif", serif' fill="#111"  stroke="#111" stroke-width="0.15">2</text>
<line x1="74.32" y1="522.20" x2="74.32" y2="524.80" stroke="#1a1a1a" stroke-width="0.95" />
<text x="74.32" y="532.70" font-size="7.7" text-anchor="middle" font-family='"Liberation Serif", serif' fill="#111"  stroke="#111" stroke-width="0.15">4</text>
<line x1="97.58" y1="522.20" x2="97.58" y2="524.80" stroke="#1a1a1a" stroke-width="0.95" />
<text x="97.58" y="532.70" font-size="7.7" text-anchor="middle" font-family='"Liberation Serif", serif' fill="#111"  stroke="#111" stroke-width="0.15">6</text>
<line x1="120.84" y1="522.20" x2="120.84" y2="524.80" stroke="#1a1a1a" stroke-width="0.95" />
<text x="120.84" y="532.70" font-size="7.7" text-anchor="middle" font-family='"Liberation Serif", serif' fill="#111"  stroke="#111" stroke-width="0.15">8</text>
<line x1="144.10" y1="522.20" x2="144.10" y2="524.80" stroke="#1a1a1a" stroke-width="0.95" />
<text x="144.10" y="532.70" font-size="7.7" text-anchor="middle" font-family='"Liberation Serif", serif' fill="#111"  stroke="#111" stroke-width="0.15">10</text>
<line x1="167.36" y1="522.20" x2="167.36" y2="524.80" stroke="#1a1a1a" stroke-width="0.95" />
<text x="167.36" y="532.70" font-size="7.7" text-anchor="middle" font-family='"Liberation Serif", serif' fill="#111"  stroke="#111" stroke-width="0.15">12</text>
<line x1="190.62" y1="522.20" x2="190.62" y2="524.80" stroke="#1a1a1a" stroke-width="0.95" />
<text x="190.62" y="532.70" font-size="7.7" text-anchor="middle" font-family='"Liberation Serif", serif' fill="#111"  stroke="#111" stroke-width="0.15">14</text>
<line x1="39.43" y1="522.20" x2="39.43" y2="523.60" stroke="#1a1a1a" stroke-width="0.95" />
<line x1="62.69" y1="522.20" x2="62.69" y2="523.60" stroke="#1a1a1a" stroke-width="0.95" />
<line x1="85.95" y1="522.20" x2="85.95" y2="523.60" stroke="#1a1a1a" stroke-width="0.95" />
<line x1="109.21" y1="522.20" x2="109.21" y2="523.60" stroke="#1a1a1a" stroke-width="0.95" />
<line x1="132.47" y1="522.20" x2="132.47" y2="523.60" stroke="#1a1a1a" stroke-width="0.95" />
<line x1="155.73" y1="522.20" x2="155.73" y2="523.60" stroke="#1a1a1a" stroke-width="0.95" />
<line x1="178.99" y1="522.20" x2="178.99" y2="523.60" stroke="#1a1a1a" stroke-width="0.95" />
<line x1="25.20" y1="522.20" x2="27.80" y2="522.20" stroke="#1a1a1a" stroke-width="0.95" />
<text x="23.60" y="524.74" font-size="7.7" text-anchor="end" font-family='"Liberation Serif", serif' fill="#111"  stroke="#111" stroke-width="0.15">0</text>
<line x1="25.20" y1="485.90" x2="27.80" y2="485.90" stroke="#1a1a1a" stroke-width="0.95" />
<text x="23.60" y="488.44" font-size="7.7" text-anchor="end" font-family='"Liberation Serif", serif' fill="#111"  stroke="#111" stroke-width="0.15">2</text>
<line x1="25.20" y1="449.60" x2="27.80" y2="449.60" stroke="#1a1a1a" stroke-width="0.95" />
<text x="23.60" y="452.14" font-size="7.7" text-anchor="end" font-family='"Liberation Serif", serif' fill="#111"  stroke="#111" stroke-width="0.15">4</text>
<line x1="25.20" y1="413.30" x2="27.80" y2="413.30" stroke="#1a1a1a" stroke-width="0.95" />
<text x="23.60" y="415.84" font-size="7.7" text-anchor="end" font-family='"Liberation Serif", serif' fill="#111"  stroke="#111" stroke-width="0.15">6</text>
<line x1="25.20" y1="377.00" x2="27.80" y2="377.00" stroke="#1a1a1a" stroke-width="0.95" />
<text x="23.60" y="379.54" font-size="7.7" text-anchor="end" font-family='"Liberation Serif", serif' fill="#111"  stroke="#111" stroke-width="0.15">8</text>
<line x1="26.40" y1="504.05" x2="27.80" y2="504.05" stroke="#1a1a1a" stroke-width="0.95" />
<line x1="26.40" y1="467.75" x2="27.80" y2="467.75" stroke="#1a1a1a" stroke-width="0.95" />
<line x1="26.40" y1="431.45" x2="27.80" y2="431.45" stroke="#1a1a1a" stroke-width="0.95" />
<line x1="26.40" y1="395.15" x2="27.80" y2="395.15" stroke="#1a1a1a" stroke-width="0.95" />
<text transform="translate(5.00,377.50) scale(0.9,1)" font-size="12" text-anchor="start" font-family='"Liberation Sans", sans-serif' fill="#000" stroke="#000" stroke-width="0.3">E</text>
<text x="110.00" y="546.00" font-size="7.5" text-anchor="middle" font-family='"Liberation Serif", serif' font-weight="bold" fill="#111" >pH</text>
<text transform="translate(14.9,448) rotate(-90)" font-size="7.5" text-anchor="middle" font-family='"Liberation Serif", serif' font-weight="bold" fill="#111">Phage titer (Log<tspan font-size="4.6" dy="1.5">10</tspan><tspan dy="-1.5">PFU/mL)</tspan></text>
<polyline points="51.06,522.20 62.69,419.11 74.32,401.32 85.95,402.41 97.58,403.32 109.21,400.23 120.84,404.23 132.47,405.68 144.10,416.57 155.73,453.59 167.36,522.20" fill="none" stroke="#1a1a1a" stroke-width="0.8" stroke-linejoin="round"/>
<line x1="62.69" y1="410.58" x2="62.69" y2="427.82" stroke="#1a1a1a" stroke-width="0.6" />
<line x1="61.39" y1="410.58" x2="63.99" y2="410.58" stroke="#1a1a1a" stroke-width="0.6" />
<line x1="61.39" y1="427.82" x2="63.99" y2="427.82" stroke="#1a1a1a" stroke-width="0.6" />
<line x1="120.84" y1="402.05" x2="120.84" y2="406.40" stroke="#1a1a1a" stroke-width="0.6" />
<line x1="119.54" y1="402.05" x2="122.14" y2="402.05" stroke="#1a1a1a" stroke-width="0.6" />
<line x1="119.54" y1="406.40" x2="122.14" y2="406.40" stroke="#1a1a1a" stroke-width="0.6" />
<line x1="74.32" y1="400.23" x2="74.32" y2="402.41" stroke="#1a1a1a" stroke-width="0.6" />
<line x1="73.02" y1="400.23" x2="75.62" y2="400.23" stroke="#1a1a1a" stroke-width="0.6" />
<line x1="73.02" y1="402.41" x2="75.62" y2="402.41" stroke="#1a1a1a" stroke-width="0.6" />
<circle cx="39.43" cy="522.20" r="1.40" fill="#111"/>
<circle cx="51.06" cy="522.20" r="1.40" fill="#111"/>
<circle cx="62.69" cy="419.11" r="1.40" fill="#111"/>
<circle cx="74.32" cy="401.32" r="1.40" fill="#111"/>
<circle cx="85.95" cy="402.41" r="1.40" fill="#111"/>
<circle cx="97.58" cy="403.32" r="1.40" fill="#111"/>
<circle cx="109.21" cy="400.23" r="1.40" fill="#111"/>
<circle cx="120.84" cy="404.23" r="1.40" fill="#111"/>
<circle cx="132.47" cy="405.68" r="1.40" fill="#111"/>
<circle cx="144.10" cy="416.57" r="1.40" fill="#111"/>
<circle cx="155.73" cy="453.59" r="1.40" fill="#111"/>
<circle cx="167.36" cy="522.20" r="1.40" fill="#111"/>
<circle cx="178.99" cy="522.20" r="1.40" fill="#111"/>
</g>
<g id="panelF">
<line x1="216.70" y1="522.90" x2="378.10" y2="522.90" stroke="#1a1a1a" stroke-width="0.95" />
<line x1="216.70" y1="523.38" x2="216.70" y2="385.80" stroke="#1a1a1a" stroke-width="0.95" />
<line x1="216.70" y1="522.90" x2="216.70" y2="525.50" stroke="#1a1a1a" stroke-width="0.95" />
<text x="216.70" y="533.30" font-size="7.9" text-anchor="middle" font-family='"Liberation Serif", serif' fill="#111"  stroke="#111" stroke-width="0.15">0</text>
<line x1="270.50" y1="522.90" x2="270.50" y2="525.50" stroke="#1a1a1a" stroke-width="0.95" />
<text x="270.50" y="533.30" font-size="7.9" text-anchor="middle" font-family='"Liberation Serif", serif' fill="#111"  stroke="#111" stroke-width="0.15">20</text>
<line x1="324.30" y1="522.90" x2="324.30" y2="525.50" stroke="#1a1a1a" stroke-width="0.95" />
<text x="324.30" y="533.30" font-size="7.9" text-anchor="middle" font-family='"Liberation Serif", serif' fill="#111"  stroke="#111" stroke-width="0.15">40</text>
<line x1="378.10" y1="522.90" x2="378.10" y2="525.50" stroke="#1a1a1a" stroke-width="0.95" />
<text x="378.10" y="533.30" font-size="7.9" text-anchor="middle" font-family='"Liberation Serif", serif' fill="#111"  stroke="#111" stroke-width="0.15">60</text>
<line x1="243.60" y1="522.90" x2="243.60" y2="524.30" stroke="#1a1a1a" stroke-width="0.95" />
<line x1="297.40" y1="522.90" x2="297.40" y2="524.30" stroke="#1a1a1a" stroke-width="0.95" />
<line x1="351.20" y1="522.90" x2="351.20" y2="524.30" stroke="#1a1a1a" stroke-width="0.95" />
<line x1="214.10" y1="522.90" x2="216.70" y2="522.90" stroke="#1a1a1a" stroke-width="0.95" />
<text x="212.50" y="525.51" font-size="7.9" text-anchor="end" font-family='"Liberation Serif", serif' fill="#111"  stroke="#111" stroke-width="0.15">0</text>
<line x1="214.10" y1="492.42" x2="216.70" y2="492.42" stroke="#1a1a1a" stroke-width="0.95" />
<text x="212.50" y="495.03" font-size="7.9" text-anchor="end" font-family='"Liberation Serif", serif' fill="#111"  stroke="#111" stroke-width="0.15">2</text>
<line x1="214.10" y1="461.94" x2="216.70" y2="461.94" stroke="#1a1a1a" stroke-width="0.95" />
<text x="212.50" y="464.55" font-size="7.9" text-anchor="end" font-family='"Liberation Serif", serif' fill="#111"  stroke="#111" stroke-width="0.15">4</text>
<line x1="214.10" y1="431.46" x2="216.70" y2="431.46" stroke="#1a1a1a" stroke-width="0.95" />
<text x="212.50" y="434.07" font-size="7.9" text-anchor="end" font-family='"Liberation Serif", serif' fill="#111"  stroke="#111" stroke-width="0.15">6</text>
<line x1="214.10" y1="400.98" x2="216.70" y2="400.98" stroke="#1a1a1a" stroke-width="0.95" />
<text x="212.50" y="403.59" font-size="7.9" text-anchor="end" font-family='"Liberation Serif", serif' fill="#111"  stroke="#111" stroke-width="0.15">8</text>
<line x1="215.30" y1="507.66" x2="216.70" y2="507.66" stroke="#1a1a1a" stroke-width="0.95" />
<line x1="215.30" y1="477.18" x2="216.70" y2="477.18" stroke="#1a1a1a" stroke-width="0.95" />
<line x1="215.30" y1="446.70" x2="216.70" y2="446.70" stroke="#1a1a1a" stroke-width="0.95" />
<line x1="215.30" y1="416.22" x2="216.70" y2="416.22" stroke="#1a1a1a" stroke-width="0.95" />
<line x1="215.30" y1="385.74" x2="216.70" y2="385.74" stroke="#1a1a1a" stroke-width="0.95" />
<text transform="translate(185.30,379.50) scale(0.9,1)" font-size="12" text-anchor="start" font-family='"Liberation Sans", sans-serif' fill="#000" stroke="#000" stroke-width="0.3">F</text>
<text x="297.50" y="545.00" font-size="7.5" text-anchor="middle" font-family='"Liberation Serif", serif' font-weight="bold" fill="#111" >Time (min)</text>
<text transform="translate(205,452) rotate(-90)" font-size="7.5" text-anchor="middle" font-family='"Liberation Serif", serif' font-weight="bold" fill="#111">Phage titer (Log<tspan font-size="4.6" dy="1.5">10</tspan><tspan dy="-1.5">PFU/mL)</tspan></text>
<polyline points="216.70,408.14 297.40,407.08 378.10,407.23" fill="none" stroke="#4a4a4a" stroke-width="1.15" stroke-linejoin="round"/>
<line x1="297.40" y1="405.25" x2="297.40" y2="408.90" stroke="#4a4a4a" stroke-width="0.7" />
<line x1="296.00" y1="405.25" x2="298.80" y2="405.25" stroke="#4a4a4a" stroke-width="0.7" />
<line x1="296.00" y1="408.90" x2="298.80" y2="408.90" stroke="#4a4a4a" stroke-width="0.7" />
<rect x="215.48" y="406.93" width="2.43" height="2.43" fill="#4a4a4a"/>
<rect x="296.19" y="405.86" width="2.43" height="2.43" fill="#4a4a4a"/>
<rect x="376.89" y="406.01" width="2.43" height="2.43" fill="#4a4a4a"/>
<polyline points="216.70,408.14 297.40,407.53 378.10,407.08" fill="none" stroke="#F14040" stroke-width="1.15" stroke-linejoin="round"/>
<line x1="297.40" y1="406.31" x2="297.40" y2="408.75" stroke="#F14040" stroke-width="0.7" />
<line x1="296.00" y1="406.31" x2="298.80" y2="406.31" stroke="#F14040" stroke-width="0.7" />
<line x1="296.00" y1="408.75" x2="298.80" y2="408.75" stroke="#F14040" stroke-width="0.7" />
<circle cx="216.70" cy="408.14" r="1.35" fill="#F14040"/>
<circle cx="297.40" cy="407.53" r="1.35" fill="#F14040"/>
<circle cx="378.10" cy="407.08" r="1.35" fill="#F14040"/>
<polyline points="216.70,408.14 297.40,409.51 378.10,410.12" fill="none" stroke="#1A6FDF" stroke-width="1.15" stroke-linejoin="round"/>
<line x1="297.40" y1="408.30" x2="297.40" y2="410.73" stroke="#1A6FDF" stroke-width="0.7" />
<line x1="296.00" y1="408.30" x2="298.80" y2="408.30" stroke="#1A6FDF" stroke-width="0.7" />
<line x1="296.00" y1="410.73" x2="298.80" y2="410.73" stroke="#1A6FDF" stroke-width="0.7" />
<line x1="378.10" y1="408.60" x2="378.10" y2="411.65" stroke="#1A6FDF" stroke-width="0.7" />
<line x1="376.70" y1="408.60" x2="379.50" y2="408.60" stroke="#1A6FDF" stroke-width="0.7" />
<line x1="376.70" y1="411.65" x2="379.50" y2="411.65" stroke="#1A6FDF" stroke-width="0.7" />
<polygon points="216.70,406.52 218.25,409.36 215.15,409.36" fill="#1A6FDF"/>
<polygon points="297.40,407.89 298.95,410.73 295.85,410.73" fill="#1A6FDF"/>
<polygon points="378.10,408.50 379.65,411.34 376.55,411.34" fill="#1A6FDF"/>
<polyline points="216.70,408.14 297.40,436.03 378.10,451.27" fill="none" stroke="#37AD6B" stroke-width="1.15" stroke-linejoin="round"/>
<line x1="297.40" y1="432.22" x2="297.40" y2="439.84" stroke="#37AD6B" stroke-width="0.7" />
<line x1="296.00" y1="432.22" x2="298.80" y2="432.22" stroke="#37AD6B" stroke-width="0.7" />
<line x1="296.00" y1="439.84" x2="298.80" y2="439.84" stroke="#37AD6B" stroke-width="0.7" />
<polygon points="216.70,409.76 218.25,406.93 215.15,406.93" fill="#37AD6B"/>
<polygon points="297.40,437.65 298.95,434.82 295.85,434.82" fill="#37AD6B"/>
<polygon points="378.10,452.89 379.65,450.06 376.55,450.06" fill="#37AD6B"/>
<polyline points="216.70,408.14 297.40,452.03 378.10,522.90" fill="none" stroke="#B177DE" stroke-width="1.15" stroke-linejoin="round"/>
<polygon points="216.70,406.39 218.19,408.14 216.70,409.90 215.21,408.14" fill="#B177DE"/>
<polygon points="297.40,450.28 298.88,452.03 297.40,453.79 295.91,452.03" fill="#B177DE"/>
<polygon points="378.10,521.14 379.59,522.90 378.10,524.65 376.62,522.90" fill="#B177DE"/>
<polyline points="216.70,408.14 297.40,456.61 378.10,522.90" fill="none" stroke="#E0A010" stroke-width="1.15" stroke-linejoin="round"/>
<polygon points="215.08,408.14 217.91,406.59 217.91,409.70" fill="#E0A010"/>
<polygon points="295.78,456.61 298.61,455.05 298.61,458.16" fill="#E0A010"/>
<polygon points="376.48,522.90 379.31,521.35 379.31,524.45" fill="#E0A010"/>
<line x1="380.50" y1="387.70" x2="393.60" y2="387.70" stroke="#4a4a4a" stroke-width="1.3" />
<rect x="385.47" y="386.17" width="3.06" height="3.06" fill="#4a4a4a"/>
<text x="397.4" y="390.00" font-size="7" font-family='"Liberation Serif", "Noto Serif CJK SC", serif' fill="#111" stroke="#111" stroke-width="0.18">30<tspan stroke="none" font-size="5.4" font-family='"Liberation Serif", "Noto Sans CJK SC", sans-serif'>℃</tspan></text>
<line x1="380.50" y1="395.26" x2="393.60" y2="395.26" stroke="#F14040" stroke-width="1.3" />
<circle cx="387.00" cy="395.26" r="1.70" fill="#F14040"/>
<text x="397.4" y="397.56" font-size="7" font-family='"Liberation Serif", "Noto Serif CJK SC", serif' fill="#111" stroke="#111" stroke-width="0.18">40<tspan stroke="none" font-size="5.4" font-family='"Liberation Serif", "Noto Sans CJK SC", sans-serif'>℃</tspan></text>
<line x1="380.50" y1="402.82" x2="393.60" y2="402.82" stroke="#1A6FDF" stroke-width="1.3" />
<polygon points="387.00,400.78 388.95,404.35 385.05,404.35" fill="#1A6FDF"/>
<text x="397.4" y="405.12" font-size="7" font-family='"Liberation Serif", "Noto Serif CJK SC", serif' fill="#111" stroke="#111" stroke-width="0.18">50<tspan stroke="none" font-size="5.4" font-family='"Liberation Serif", "Noto Sans CJK SC", sans-serif'>℃</tspan></text>
<line x1="380.50" y1="410.38" x2="393.60" y2="410.38" stroke="#37AD6B" stroke-width="1.3" />
<polygon points="387.00,412.42 388.95,408.85 385.05,408.85" fill="#37AD6B"/>
<text x="397.4" y="412.68" font-size="7" font-family='"Liberation Serif", "Noto Serif CJK SC", serif' fill="#111" stroke="#111" stroke-width="0.18">60<tspan stroke="none" font-size="5.4" font-family='"Liberation Serif", "Noto Sans CJK SC", sans-serif'>℃</tspan></text>
<line x1="380.50" y1="417.94" x2="393.60" y2="417.94" stroke="#B177DE" stroke-width="1.3" />
<polygon points="387.00,415.73 388.87,417.94 387.00,420.15 385.13,417.94" fill="#B177DE"/>
<text x="397.4" y="420.24" font-size="7" font-family='"Liberation Serif", "Noto Serif CJK SC", serif' fill="#111" stroke="#111" stroke-width="0.18">70<tspan stroke="none" font-size="5.4" font-family='"Liberation Serif", "Noto Sans CJK SC", sans-serif'>℃</tspan></text>
<line x1="380.50" y1="425.50" x2="393.60" y2="425.50" stroke="#E0A010" stroke-width="1.3" />
<polygon points="384.96,425.50 388.53,423.55 388.53,427.45" fill="#E0A010"/>
<text x="397.4" y="427.80" font-size="7" font-family='"Liberation Serif", "Noto Serif CJK SC", serif' fill="#111" stroke="#111" stroke-width="0.18">80<tspan stroke="none" font-size="5.4" font-family='"Liberation Serif", "Noto Sans CJK SC", sans-serif'>℃</tspan></text>
</g>
</svg>
</body></html>
